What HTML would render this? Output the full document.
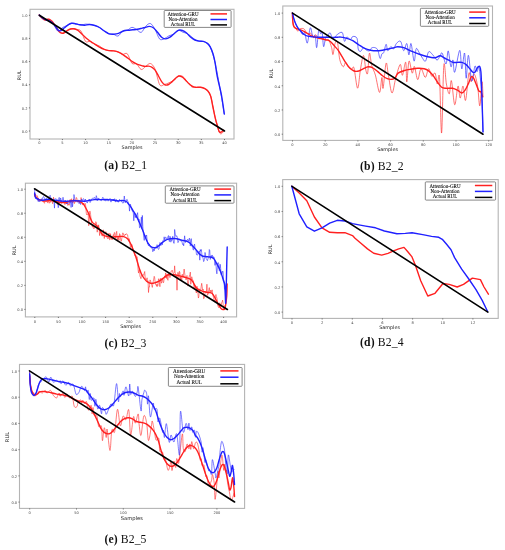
<!DOCTYPE html><html><head><meta charset="utf-8"><style>html,body{margin:0;padding:0;background:#fff;}svg{display:block}</style></head><body>
<svg width="505" height="550" viewBox="0 0 505 550">
<rect width="505" height="550" fill="#fff"/>
<clipPath id="ca"><rect x="30" y="9.3" width="204" height="129.7"/></clipPath>
<g clip-path="url(#ca)" fill="none" stroke-linejoin="round" stroke-linecap="round">
<path d="M39.30,15.10 C40.07,15.84 42.39,18.94 43.93,19.54 C45.47,20.14 47.02,18.15 48.56,18.68 C50.10,19.21 51.65,20.86 53.19,22.74 C54.73,24.62 56.28,28.19 57.82,29.95 C59.36,31.71 60.91,33.18 62.45,33.30 C63.99,33.43 65.54,31.45 67.08,30.69 C68.62,29.93 70.17,28.94 71.71,28.74 C73.25,28.55 74.80,29.14 76.34,29.53 C77.88,29.92 79.43,29.09 80.97,31.08 C82.51,33.07 84.06,39.81 85.60,41.49 C87.14,43.18 88.69,40.74 90.23,41.18 C91.77,41.62 93.32,43.32 94.86,44.14 C96.40,44.96 97.95,45.23 99.49,46.09 C101.03,46.96 102.58,48.59 104.12,49.33 C105.66,50.08 107.21,50.31 108.75,50.56 C110.29,50.81 111.84,50.62 113.38,50.84 C114.92,51.07 116.47,51.32 118.01,51.91 C119.55,52.50 121.10,54.07 122.64,54.37 C124.18,54.68 125.73,52.26 127.27,53.75 C128.81,55.23 130.36,61.60 131.90,63.29 C133.44,64.98 134.99,62.85 136.53,63.88 C138.07,64.92 139.62,69.07 141.16,69.49 C142.70,69.90 144.25,67.36 145.79,66.36 C147.33,65.36 148.88,63.04 150.42,63.50 C151.96,63.97 153.51,65.60 155.05,69.14 C156.59,72.67 158.14,82.15 159.68,84.71 C161.22,87.27 162.77,84.83 164.31,84.52 C165.85,84.20 167.40,83.53 168.94,82.82 C170.48,82.12 172.03,81.38 173.57,80.27 C175.11,79.17 176.66,76.83 178.20,76.19 C179.74,75.56 181.29,75.48 182.83,76.48 C184.37,77.47 185.92,80.42 187.46,82.19 C189.00,83.96 190.55,86.23 192.09,87.09 C193.63,87.95 195.18,87.29 196.72,87.35 C198.26,87.41 199.81,87.10 201.35,87.44 C202.89,87.77 204.44,87.93 205.98,89.35 C207.52,90.77 209.07,91.19 210.61,95.94 C212.15,100.70 213.69,111.66 215.24,117.89 C216.79,124.11 218.39,131.20 219.90,133.30 C221.41,135.40 223.57,130.97 224.30,130.50" stroke="#ff2020" stroke-width="0.7" opacity="0.9"/>
<path d="M39.30,15.10 C40.07,15.72 42.39,17.89 43.93,18.81 C45.47,19.74 47.02,19.83 48.56,20.64 C50.10,21.45 51.65,21.91 53.19,23.66 C54.73,25.41 56.28,30.49 57.82,31.14 C59.36,31.79 60.91,28.47 62.45,27.54 C63.99,26.60 65.54,26.26 67.08,25.55 C68.62,24.84 70.17,23.55 71.71,23.29 C73.25,23.02 74.80,23.68 76.34,23.95 C77.88,24.23 79.43,24.93 80.97,24.96 C82.51,24.98 84.06,24.17 85.60,24.11 C87.14,24.04 88.69,24.32 90.23,24.55 C91.77,24.79 93.32,25.03 94.86,25.52 C96.40,26.01 97.95,26.60 99.49,27.49 C101.03,28.39 102.58,29.84 104.12,30.88 C105.66,31.91 107.21,33.15 108.75,33.71 C110.29,34.26 111.84,33.83 113.38,34.22 C114.92,34.61 116.47,36.55 118.01,36.05 C119.55,35.56 121.10,32.23 122.64,31.27 C124.18,30.30 125.73,30.93 127.27,30.29 C128.81,29.64 130.36,27.51 131.90,27.38 C133.44,27.24 134.99,28.61 136.53,29.45 C138.07,30.29 139.62,32.93 141.16,32.40 C142.70,31.87 144.25,27.73 145.79,26.26 C147.33,24.78 148.88,23.01 150.42,23.54 C151.96,24.07 153.51,26.84 155.05,29.44 C156.59,32.03 158.14,37.55 159.68,39.09 C161.22,40.63 162.77,39.22 164.31,38.68 C165.85,38.13 167.40,36.59 168.94,35.84 C170.48,35.09 172.03,35.07 173.57,34.16 C175.11,33.24 176.66,30.68 178.20,30.35 C179.74,30.01 181.29,31.58 182.83,32.16 C184.37,32.73 185.92,32.93 187.46,33.77 C189.00,34.62 190.55,36.09 192.09,37.24 C193.63,38.38 195.18,39.98 196.72,40.64 C198.26,41.30 199.81,40.89 201.35,41.19 C202.89,41.50 204.44,41.39 205.98,42.48 C207.52,43.56 209.07,44.19 210.61,47.70 C212.15,51.22 213.70,56.89 215.24,63.57 C216.78,70.25 218.36,79.38 219.87,87.79 C221.38,96.19 223.56,109.63 224.30,114.00" stroke="#2020ff" stroke-width="0.7" opacity="0.9"/>
<path d="M39.30,15.10 C39.93,15.73 42.07,18.07 43.10,18.90 C44.13,19.73 44.50,20.00 45.50,20.10 C46.50,20.20 48.02,19.30 49.10,19.50 C50.18,19.70 51.02,20.32 52.00,21.30 C52.98,22.28 54.00,23.92 55.00,25.40 C56.00,26.88 57.12,29.00 58.00,30.20 C58.88,31.40 59.42,32.10 60.30,32.60 C61.18,33.10 62.20,33.50 63.30,33.20 C64.40,32.90 65.72,31.50 66.90,30.80 C68.08,30.10 69.22,29.33 70.40,29.00 C71.58,28.67 72.80,28.60 74.00,28.80 C75.20,29.00 76.42,29.47 77.60,30.20 C78.78,30.93 79.92,32.12 81.10,33.20 C82.28,34.28 83.50,35.62 84.70,36.70 C85.90,37.78 87.12,38.77 88.30,39.70 C89.48,40.63 90.72,41.57 91.80,42.30 C92.88,43.03 93.52,43.30 94.80,44.10 C96.08,44.90 97.92,46.22 99.50,47.10 C101.08,47.98 102.72,48.82 104.30,49.40 C105.88,49.98 107.42,50.35 109.00,50.60 C110.58,50.85 112.22,50.65 113.80,50.90 C115.38,51.15 116.92,51.45 118.50,52.10 C120.08,52.75 121.72,53.77 123.30,54.80 C124.88,55.83 126.42,57.12 128.00,58.30 C129.58,59.48 131.22,60.90 132.80,61.90 C134.38,62.90 135.92,63.65 137.50,64.30 C139.08,64.95 141.05,65.45 142.30,65.80 C143.55,66.15 143.98,66.35 145.00,66.40 C146.02,66.45 147.28,65.98 148.40,66.10 C149.52,66.22 150.58,66.42 151.70,67.10 C152.82,67.78 153.97,68.72 155.10,70.20 C156.23,71.68 157.38,74.05 158.50,76.00 C159.62,77.95 160.68,80.40 161.80,81.90 C162.92,83.40 164.07,84.57 165.20,85.00 C166.33,85.43 167.48,85.02 168.60,84.50 C169.72,83.98 170.78,82.88 171.90,81.90 C173.02,80.92 174.17,79.58 175.30,78.60 C176.43,77.62 177.58,76.28 178.70,76.00 C179.82,75.72 180.88,76.25 182.00,76.90 C183.12,77.55 184.27,78.78 185.40,79.90 C186.53,81.02 187.68,82.57 188.80,83.60 C189.92,84.63 190.98,85.48 192.10,86.10 C193.22,86.72 194.08,87.10 195.50,87.30 C196.92,87.50 199.05,87.07 200.60,87.30 C202.15,87.53 203.55,88.05 204.80,88.70 C206.05,89.35 207.12,89.95 208.10,91.20 C209.08,92.45 210.00,94.10 210.70,96.20 C211.40,98.30 211.75,101.13 212.30,103.80 C212.85,106.47 213.43,109.53 214.00,112.20 C214.57,114.87 215.13,117.55 215.70,119.80 C216.27,122.05 216.83,123.78 217.40,125.70 C217.97,127.62 218.53,130.22 219.10,131.30 C219.67,132.38 220.07,132.37 220.80,132.20 C221.53,132.03 223.05,130.62 223.50,130.30" stroke="#ff2020" stroke-width="1.4" opacity="1"/>
<path d="M39.30,15.10 C39.93,15.63 41.87,17.47 43.10,18.30 C44.33,19.13 45.50,19.60 46.70,20.10 C47.90,20.60 49.12,20.60 50.30,21.30 C51.48,22.00 52.72,23.12 53.80,24.30 C54.88,25.48 55.90,27.32 56.80,28.40 C57.70,29.48 58.42,30.50 59.20,30.80 C59.98,31.10 60.62,30.70 61.50,30.20 C62.38,29.70 63.40,28.70 64.50,27.80 C65.60,26.90 66.92,25.55 68.10,24.80 C69.28,24.05 70.42,23.48 71.60,23.30 C72.78,23.12 73.82,23.45 75.20,23.70 C76.58,23.95 78.32,24.55 79.90,24.80 C81.48,25.05 83.12,25.25 84.70,25.20 C86.28,25.15 87.72,24.45 89.40,24.50 C91.08,24.55 93.12,25.00 94.80,25.50 C96.48,26.00 97.92,26.58 99.50,27.50 C101.08,28.42 102.72,29.95 104.30,31.00 C105.88,32.05 107.42,33.27 109.00,33.80 C110.58,34.33 112.22,34.27 113.80,34.20 C115.38,34.13 116.92,33.93 118.50,33.40 C120.08,32.87 121.72,31.53 123.30,31.00 C124.88,30.47 126.42,30.40 128.00,30.20 C129.58,30.00 131.22,29.95 132.80,29.80 C134.38,29.65 135.92,29.58 137.50,29.30 C139.08,29.02 141.05,28.40 142.30,28.10 C143.55,27.80 143.85,27.78 145.00,27.50 C146.15,27.22 147.82,26.35 149.20,26.40 C150.58,26.45 151.92,26.82 153.30,27.80 C154.68,28.78 156.12,30.73 157.50,32.30 C158.88,33.87 160.22,36.10 161.60,37.20 C162.98,38.30 164.40,38.90 165.80,38.90 C167.20,38.90 168.62,38.07 170.00,37.20 C171.38,36.33 172.72,34.85 174.10,33.70 C175.48,32.55 176.92,30.83 178.30,30.30 C179.68,29.77 181.02,30.05 182.40,30.50 C183.78,30.95 185.20,31.88 186.60,33.00 C188.00,34.12 189.42,36.03 190.80,37.20 C192.18,38.37 193.52,39.35 194.90,40.00 C196.28,40.65 197.70,40.87 199.10,41.10 C200.50,41.33 201.92,41.02 203.30,41.40 C204.68,41.78 206.25,42.48 207.40,43.40 C208.55,44.32 209.27,45.17 210.20,46.90 C211.13,48.63 212.20,51.25 213.00,53.80 C213.80,56.35 214.28,58.40 215.00,62.20 C215.72,66.00 216.22,71.08 217.30,76.60 C218.38,82.12 220.33,89.07 221.50,95.30 C222.67,101.53 223.83,110.88 224.30,114.00" stroke="#2020ff" stroke-width="1.4" opacity="1"/>
<path d="M39.30,15.30 L224.50,131.00" stroke="#000" stroke-width="1.6" opacity="1"/>
</g>
<rect x="30" y="9.3" width="204" height="129.7" fill="none" stroke="#b4b4b4" stroke-width="1.1"/>
<line x1="39.30" y1="139" x2="39.30" y2="140.1" stroke="#444" stroke-width="0.7"/>
<text x="39.30" y="144.20" font-family="DejaVu Sans" font-size="3.6" fill="#444" text-anchor="middle">0</text>
<line x1="62.45" y1="139" x2="62.45" y2="140.1" stroke="#444" stroke-width="0.7"/>
<text x="62.45" y="144.20" font-family="DejaVu Sans" font-size="3.6" fill="#444" text-anchor="middle">5</text>
<line x1="85.60" y1="139" x2="85.60" y2="140.1" stroke="#444" stroke-width="0.7"/>
<text x="85.60" y="144.20" font-family="DejaVu Sans" font-size="3.6" fill="#444" text-anchor="middle">10</text>
<line x1="108.75" y1="139" x2="108.75" y2="140.1" stroke="#444" stroke-width="0.7"/>
<text x="108.75" y="144.20" font-family="DejaVu Sans" font-size="3.6" fill="#444" text-anchor="middle">15</text>
<line x1="131.90" y1="139" x2="131.90" y2="140.1" stroke="#444" stroke-width="0.7"/>
<text x="131.90" y="144.20" font-family="DejaVu Sans" font-size="3.6" fill="#444" text-anchor="middle">20</text>
<line x1="155.05" y1="139" x2="155.05" y2="140.1" stroke="#444" stroke-width="0.7"/>
<text x="155.05" y="144.20" font-family="DejaVu Sans" font-size="3.6" fill="#444" text-anchor="middle">25</text>
<line x1="178.20" y1="139" x2="178.20" y2="140.1" stroke="#444" stroke-width="0.7"/>
<text x="178.20" y="144.20" font-family="DejaVu Sans" font-size="3.6" fill="#444" text-anchor="middle">30</text>
<line x1="201.35" y1="139" x2="201.35" y2="140.1" stroke="#444" stroke-width="0.7"/>
<text x="201.35" y="144.20" font-family="DejaVu Sans" font-size="3.6" fill="#444" text-anchor="middle">35</text>
<line x1="224.50" y1="139" x2="224.50" y2="140.1" stroke="#444" stroke-width="0.7"/>
<text x="224.50" y="144.20" font-family="DejaVu Sans" font-size="3.6" fill="#444" text-anchor="middle">40</text>
<line x1="28.9" y1="131.00" x2="30" y2="131.00" stroke="#444" stroke-width="0.7"/>
<text x="27.5" y="132.75" font-family="DejaVu Sans" font-size="3.6" fill="#444" text-anchor="end">0.0</text>
<line x1="28.9" y1="107.86" x2="30" y2="107.86" stroke="#444" stroke-width="0.7"/>
<text x="27.5" y="109.61" font-family="DejaVu Sans" font-size="3.6" fill="#444" text-anchor="end">0.2</text>
<line x1="28.9" y1="84.72" x2="30" y2="84.72" stroke="#444" stroke-width="0.7"/>
<text x="27.5" y="86.47" font-family="DejaVu Sans" font-size="3.6" fill="#444" text-anchor="end">0.4</text>
<line x1="28.9" y1="61.58" x2="30" y2="61.58" stroke="#444" stroke-width="0.7"/>
<text x="27.5" y="63.33" font-family="DejaVu Sans" font-size="3.6" fill="#444" text-anchor="end">0.6</text>
<line x1="28.9" y1="38.44" x2="30" y2="38.44" stroke="#444" stroke-width="0.7"/>
<text x="27.5" y="40.19" font-family="DejaVu Sans" font-size="3.6" fill="#444" text-anchor="end">0.8</text>
<line x1="28.9" y1="15.30" x2="30" y2="15.30" stroke="#444" stroke-width="0.7"/>
<text x="27.5" y="17.05" font-family="DejaVu Sans" font-size="3.6" fill="#444" text-anchor="end">1.0</text>
<text x="132" y="147.3" font-family="DejaVu Sans" font-size="4.9" fill="#222" text-anchor="middle" dominant-baseline="central">Samples</text>
<text transform="translate(18.8,75.3) rotate(-90)" font-family="DejaVu Sans" font-size="4.9" fill="#222" text-anchor="middle" dominant-baseline="central">RUL</text>
<rect x="164.2" y="10.5" width="66.9" height="16.9" rx="0.8" fill="#fff" stroke="#555" stroke-width="0.7"/>
<text x="183.0" y="15.65" font-family="Liberation Serif" font-size="5" fill="#000" stroke="#000" stroke-width="0.08" text-anchor="middle" text-rendering="geometricPrecision" transform="translate(183.0 13.9) scale(1 1.12) translate(-183.0 -13.9)">Attention-GRU</text>
<text x="183.0" y="20.65" font-family="Liberation Serif" font-size="5" fill="#000" stroke="#000" stroke-width="0.08" text-anchor="middle" text-rendering="geometricPrecision" transform="translate(183.0 18.9) scale(1 1.12) translate(-183.0 -18.9)">Non-Attention</text>
<text x="183.0" y="25.55" font-family="Liberation Serif" font-size="5" fill="#000" stroke="#000" stroke-width="0.08" text-anchor="middle" text-rendering="geometricPrecision" transform="translate(183.0 23.8) scale(1 1.12) translate(-183.0 -23.8)">Actual RUL</text>
<line x1="210.5" y1="13.9" x2="227.0" y2="13.9" stroke="#ff2020" stroke-width="1.5"/>
<line x1="210.5" y1="19.5" x2="227.0" y2="19.5" stroke="#2020ff" stroke-width="1.5"/>
<line x1="210.5" y1="24.9" x2="227.0" y2="24.9" stroke="#000" stroke-width="1.5"/>
<text x="104.3" y="169.1" font-family="Liberation Serif" font-size="11.7" fill="#111" letter-spacing="0.12"><tspan font-weight="bold">(a)</tspan> B2_1</text>
<clipPath id="cb"><rect x="282.8" y="6" width="209.7" height="134.4"/></clipPath>
<g clip-path="url(#cb)" fill="none" stroke-linejoin="round" stroke-linecap="round">
<path d="M292.20,12.50 C292.30,14.23 292.52,20.43 292.80,22.90 C293.08,25.37 293.38,26.40 293.90,27.30 C294.42,28.20 295.23,27.63 295.90,28.30 C296.57,28.97 297.23,31.22 297.90,31.30 C298.57,31.38 298.92,29.22 299.90,28.80 C300.88,28.38 302.73,28.22 303.80,28.80 C304.87,29.38 305.55,31.40 306.30,32.30 C307.05,33.20 307.55,34.05 308.30,34.20 C309.05,34.35 309.90,32.62 310.80,33.20 C311.70,33.78 312.88,37.45 313.70,37.70 C314.52,37.95 314.87,34.53 315.70,34.70 C316.53,34.87 317.53,38.20 318.70,38.70 C319.87,39.20 321.55,37.37 322.70,37.70 C323.85,38.03 324.62,40.37 325.60,40.70 C326.58,41.03 327.60,38.55 328.60,39.70 C329.60,40.85 330.87,45.13 331.60,47.60 C332.33,50.07 332.43,55.17 333.00,54.50 C333.57,53.83 334.27,45.70 335.00,43.60 C335.73,41.50 336.60,39.22 337.40,41.90 C338.20,44.58 338.82,55.55 339.80,59.70 C340.78,63.85 342.32,66.40 343.30,66.80 C344.28,67.20 344.90,62.10 345.70,62.10 C346.50,62.10 347.12,65.62 348.10,66.80 C349.08,67.98 350.62,69.00 351.60,69.20 C352.58,69.40 353.00,64.83 354.00,68.00 C355.00,71.17 356.52,88.00 357.60,88.20 C358.68,88.40 359.52,74.65 360.50,69.20 C361.48,63.75 362.60,55.30 363.50,55.50 C364.40,55.70 365.20,67.52 365.90,70.40 C366.60,73.28 367.12,75.67 367.70,72.80 C368.28,69.93 368.72,54.40 369.40,53.20 C370.08,52.00 370.80,61.95 371.80,65.60 C372.80,69.25 374.12,70.63 375.40,75.10 C376.68,79.57 378.42,92.00 379.50,92.40 C380.58,92.80 381.30,78.20 381.90,77.50 C382.50,76.80 382.40,90.57 383.10,88.20 C383.80,85.83 385.22,65.48 386.10,63.30 C386.98,61.12 387.42,70.15 388.40,75.10 C389.38,80.05 390.75,92.62 392.00,93.00 C393.25,93.38 394.52,82.17 395.90,77.40 C397.28,72.63 399.22,64.75 400.30,64.40 C401.38,64.05 401.50,75.67 402.40,75.30 C403.30,74.93 404.97,61.12 405.70,62.20 C406.43,63.28 406.25,81.98 406.80,81.80 C407.35,81.62 408.10,62.55 409.00,61.10 C409.90,59.65 411.30,72.20 412.20,73.10 C413.10,74.00 413.48,65.42 414.40,66.50 C415.32,67.58 416.60,79.23 417.70,79.60 C418.80,79.97 419.73,69.07 421.00,68.70 C422.27,68.33 424.03,77.40 425.30,77.40 C426.57,77.40 427.52,68.88 428.60,68.70 C429.68,68.52 430.72,75.57 431.80,76.30 C432.88,77.03 434.18,71.82 435.10,73.10 C436.02,74.38 436.57,83.28 437.30,84.00 C438.03,84.72 438.78,69.23 439.50,77.40 C440.22,85.57 440.88,135.00 441.60,133.00 C442.32,131.00 443.00,73.57 443.80,65.40 C444.60,57.23 445.48,79.27 446.40,84.00 C447.32,88.73 448.47,94.35 449.30,93.80 C450.13,93.25 450.50,78.88 451.40,80.70 C452.30,82.52 453.60,103.80 454.70,104.70 C455.80,105.60 457.08,87.20 458.00,86.10 C458.92,85.00 459.37,98.10 460.20,98.10 C461.03,98.10 462.10,85.73 463.00,86.10 C463.90,86.47 464.62,102.47 465.60,100.30 C466.58,98.13 467.98,76.18 468.90,73.10 C469.82,70.02 470.20,81.62 471.10,81.80 C472.00,81.98 473.22,73.48 474.30,74.20 C475.38,74.92 476.68,80.83 477.60,86.10 C478.52,91.37 479.07,106.52 479.80,105.80 C480.53,105.08 481.47,83.27 482.00,81.80 C482.53,80.33 482.83,94.47 483.00,97.00" stroke="#ff2020" stroke-width="0.7" opacity="0.9"/>
<path d="M292.30,12.90 C292.57,13.90 293.30,17.00 293.90,18.90 C294.50,20.80 295.23,22.82 295.90,24.30 C296.57,25.78 297.23,26.80 297.90,27.80 C298.57,28.80 299.07,29.15 299.90,30.30 C300.73,31.45 302.08,34.28 302.90,34.70 C303.72,35.12 304.07,31.40 304.80,32.80 C305.53,34.20 306.38,43.93 307.30,43.10 C308.22,42.27 309.38,28.87 310.30,27.80 C311.22,26.73 311.98,35.38 312.80,36.70 C313.62,38.02 314.55,33.88 315.20,35.70 C315.85,37.52 316.12,48.50 316.70,47.60 C317.28,46.70 318.03,32.62 318.70,30.30 C319.37,27.98 320.12,33.28 320.70,33.70 C321.28,34.12 321.72,30.65 322.20,32.80 C322.68,34.95 323.03,45.78 323.60,46.60 C324.17,47.42 324.93,39.52 325.60,37.70 C326.27,35.88 326.85,36.52 327.60,35.70 C328.35,34.88 329.35,32.47 330.10,32.80 C330.85,33.13 331.37,36.88 332.10,37.70 C332.83,38.52 333.77,38.12 334.50,37.70 C335.23,37.28 335.23,36.08 336.50,35.20 C337.77,34.32 340.77,31.38 342.10,32.40 C343.43,33.42 343.70,40.52 344.50,41.30 C345.30,42.08 345.92,37.40 346.90,37.10 C347.88,36.80 349.42,39.60 350.40,39.50 C351.38,39.40 351.70,36.70 352.80,36.50 C353.90,36.30 356.10,36.22 357.00,38.30 C357.90,40.38 357.62,46.82 358.20,49.00 C358.78,51.18 359.62,51.60 360.50,51.40 C361.38,51.20 362.50,48.00 363.50,47.80 C364.50,47.60 365.52,49.70 366.50,50.20 C367.48,50.70 368.52,51.20 369.40,50.80 C370.28,50.40 370.80,48.30 371.80,47.80 C372.80,47.30 374.40,47.40 375.40,47.80 C376.40,48.20 377.02,48.42 377.80,50.20 C378.58,51.98 379.42,57.90 380.10,58.50 C380.78,59.10 381.30,54.78 381.90,53.80 C382.50,52.82 383.00,54.18 383.70,52.60 C384.40,51.02 385.42,44.60 386.10,44.30 C386.78,44.00 387.02,50.42 387.80,50.80 C388.58,51.18 389.85,46.90 390.80,46.60 C391.75,46.30 392.57,49.52 393.50,49.00 C394.43,48.48 395.22,44.77 396.40,43.50 C397.58,42.23 399.38,40.20 400.60,41.40 C401.82,42.60 402.67,50.35 403.70,50.70 C404.73,51.05 405.93,42.80 406.80,43.50 C407.67,44.20 408.20,54.90 408.90,54.90 C409.60,54.90 410.13,42.47 411.00,43.50 C411.87,44.53 413.23,60.23 414.10,61.10 C414.97,61.97 415.33,50.08 416.20,48.70 C417.07,47.32 418.27,51.25 419.30,52.80 C420.33,54.35 421.37,56.62 422.40,58.00 C423.43,59.38 424.45,62.13 425.50,61.10 C426.55,60.07 427.48,52.83 428.70,51.80 C429.92,50.77 431.42,53.52 432.80,54.90 C434.18,56.28 435.80,59.92 437.00,60.10 C438.20,60.28 439.13,57.17 440.00,56.00 C440.87,54.83 441.20,51.77 442.20,53.10 C443.20,54.43 445.00,64.37 446.00,64.00 C447.00,63.63 447.38,50.45 448.20,50.90 C449.02,51.35 450.10,65.18 450.90,66.70 C451.70,68.22 452.37,59.08 453.00,60.00 C453.63,60.92 453.58,73.80 454.70,72.20 C455.82,70.60 458.52,50.95 459.70,50.40 C460.88,49.85 460.98,68.45 461.80,68.90 C462.62,69.35 463.87,51.55 464.60,53.10 C465.33,54.65 465.57,77.83 466.20,78.20 C466.83,78.57 467.48,54.85 468.40,55.30 C469.32,55.75 470.62,79.08 471.70,80.90 C472.78,82.72 474.00,67.73 474.90,66.20 C475.80,64.67 476.45,71.70 477.10,71.70 C477.75,71.70 478.23,64.82 478.80,66.20 C479.37,67.58 479.97,74.37 480.50,80.00 C481.03,85.63 481.58,91.35 482.00,100.00 C482.42,108.65 482.83,126.58 483.00,131.90" stroke="#2020ff" stroke-width="0.7" opacity="0.9"/>
<path d="M292.50,13.10 C292.52,13.90 292.52,16.27 292.60,17.90 C292.68,19.53 292.78,21.50 293.00,22.90 C293.22,24.30 293.42,25.40 293.90,26.30 C294.38,27.20 295.07,27.80 295.90,28.30 C296.73,28.80 297.90,28.97 298.90,29.30 C299.90,29.63 300.92,29.88 301.90,30.30 C302.88,30.72 303.82,31.23 304.80,31.80 C305.78,32.37 306.63,32.97 307.80,33.70 C308.97,34.43 310.48,35.62 311.80,36.20 C313.12,36.78 314.38,36.87 315.70,37.20 C317.02,37.53 318.38,37.87 319.70,38.20 C321.02,38.53 322.28,38.87 323.60,39.20 C324.92,39.53 326.43,39.78 327.60,40.20 C328.77,40.62 329.37,40.63 330.60,41.70 C331.83,42.77 333.67,45.08 335.00,46.60 C336.33,48.12 337.42,49.12 338.60,50.80 C339.78,52.48 340.92,54.72 342.10,56.70 C343.28,58.68 344.50,60.92 345.70,62.70 C346.90,64.48 347.92,66.02 349.30,67.40 C350.68,68.78 352.42,70.40 354.00,71.00 C355.58,71.60 357.22,71.40 358.80,71.00 C360.38,70.60 361.92,69.30 363.50,68.60 C365.08,67.90 366.72,66.90 368.30,66.80 C369.88,66.70 371.42,67.20 373.00,68.00 C374.58,68.80 376.22,70.32 377.80,71.60 C379.38,72.88 380.92,74.52 382.50,75.70 C384.08,76.88 385.72,78.10 387.30,78.70 C388.88,79.30 390.72,79.40 392.00,79.30 C393.28,79.20 393.98,79.13 395.00,78.10 C396.02,77.07 396.50,74.37 398.10,73.10 C399.70,71.83 402.43,71.15 404.60,70.50 C406.77,69.85 408.92,69.57 411.10,69.20 C413.28,68.83 415.52,68.38 417.70,68.30 C419.88,68.22 422.38,68.27 424.20,68.70 C426.02,69.13 427.15,69.80 428.60,70.90 C430.05,72.00 431.45,73.48 432.90,75.30 C434.35,77.12 435.85,79.82 437.30,81.80 C438.75,83.78 440.15,86.12 441.60,87.20 C443.05,88.28 444.18,88.12 446.00,88.30 C447.82,88.48 450.58,87.98 452.50,88.30 C454.42,88.62 455.95,89.42 457.50,90.20 C459.05,90.98 460.53,93.00 461.80,93.00 C463.07,93.00 464.00,91.75 465.10,90.20 C466.20,88.65 467.40,85.88 468.40,83.70 C469.40,81.52 470.28,78.10 471.10,77.10 C471.92,76.10 472.48,76.60 473.30,77.70 C474.12,78.80 475.08,81.52 476.00,83.70 C476.92,85.88 477.98,89.43 478.80,90.80 C479.62,92.17 480.27,90.90 480.90,91.90 C481.53,92.90 482.32,95.98 482.60,96.80" stroke="#ff2020" stroke-width="1.4" opacity="1"/>
<path d="M292.50,13.10 C292.73,14.07 293.33,17.03 293.90,18.90 C294.47,20.77 295.23,22.82 295.90,24.30 C296.57,25.78 297.07,26.63 297.90,27.80 C298.73,28.97 299.92,30.23 300.90,31.30 C301.88,32.37 302.65,33.38 303.80,34.20 C304.95,35.02 306.30,35.75 307.80,36.20 C309.30,36.65 311.15,36.73 312.80,36.90 C314.45,37.07 316.05,37.15 317.70,37.20 C319.35,37.25 321.05,37.20 322.70,37.20 C324.35,37.20 325.95,37.15 327.60,37.20 C329.25,37.25 330.95,37.50 332.60,37.50 C334.25,37.50 336.12,37.27 337.50,37.20 C338.88,37.13 339.33,36.92 340.90,37.10 C342.47,37.28 344.92,37.70 346.90,38.30 C348.88,38.90 350.82,39.62 352.80,40.70 C354.78,41.78 356.82,43.52 358.80,44.80 C360.78,46.08 362.73,47.50 364.70,48.40 C366.67,49.30 368.62,49.80 370.60,50.20 C372.58,50.60 374.62,50.80 376.60,50.80 C378.58,50.80 380.53,50.50 382.50,50.20 C384.47,49.90 386.42,49.43 388.40,49.00 C390.38,48.57 392.88,47.97 394.40,47.60 C395.92,47.23 395.95,46.80 397.50,46.80 C399.05,46.80 401.62,46.95 403.70,47.60 C405.78,48.25 407.57,49.65 410.00,50.70 C412.43,51.75 415.53,52.93 418.30,53.90 C421.07,54.87 423.83,55.85 426.60,56.50 C429.37,57.15 432.67,57.92 434.90,57.80 C437.13,57.68 438.42,55.77 440.00,55.80 C441.58,55.83 442.95,57.27 444.40,58.00 C445.85,58.73 447.25,59.47 448.70,60.20 C450.15,60.93 451.63,62.03 453.10,62.40 C454.57,62.77 456.05,62.40 457.50,62.40 C458.95,62.40 460.35,62.03 461.80,62.40 C463.25,62.77 464.92,63.60 466.20,64.60 C467.48,65.60 468.40,67.13 469.50,68.40 C470.60,69.67 471.90,71.57 472.80,72.20 C473.70,72.83 474.08,73.02 474.90,72.20 C475.72,71.38 476.88,68.22 477.70,67.30 C478.52,66.38 479.27,65.97 479.80,66.70 C480.33,67.43 480.62,68.87 480.90,71.70 C481.18,74.53 481.28,78.15 481.50,83.70 C481.72,89.25 481.95,96.97 482.20,105.00 C482.45,113.03 482.87,127.42 483.00,131.90" stroke="#2020ff" stroke-width="1.4" opacity="1"/>
<path d="M292.50,13.10 L483.00,134.20" stroke="#000" stroke-width="1.6" opacity="1"/>
</g>
<rect x="282.8" y="6" width="209.7" height="134.4" fill="none" stroke="#b4b4b4" stroke-width="1.1"/>
<line x1="292.50" y1="140.4" x2="292.50" y2="141.5" stroke="#444" stroke-width="0.7"/>
<text x="292.50" y="145.50" font-family="DejaVu Sans" font-size="3.6" fill="#444" text-anchor="middle">0</text>
<line x1="325.20" y1="140.4" x2="325.20" y2="141.5" stroke="#444" stroke-width="0.7"/>
<text x="325.20" y="145.50" font-family="DejaVu Sans" font-size="3.6" fill="#444" text-anchor="middle">20</text>
<line x1="357.90" y1="140.4" x2="357.90" y2="141.5" stroke="#444" stroke-width="0.7"/>
<text x="357.90" y="145.50" font-family="DejaVu Sans" font-size="3.6" fill="#444" text-anchor="middle">40</text>
<line x1="390.60" y1="140.4" x2="390.60" y2="141.5" stroke="#444" stroke-width="0.7"/>
<text x="390.60" y="145.50" font-family="DejaVu Sans" font-size="3.6" fill="#444" text-anchor="middle">60</text>
<line x1="423.30" y1="140.4" x2="423.30" y2="141.5" stroke="#444" stroke-width="0.7"/>
<text x="423.30" y="145.50" font-family="DejaVu Sans" font-size="3.6" fill="#444" text-anchor="middle">80</text>
<line x1="456.00" y1="140.4" x2="456.00" y2="141.5" stroke="#444" stroke-width="0.7"/>
<text x="456.00" y="145.50" font-family="DejaVu Sans" font-size="3.6" fill="#444" text-anchor="middle">100</text>
<line x1="488.70" y1="140.4" x2="488.70" y2="141.5" stroke="#444" stroke-width="0.7"/>
<text x="488.70" y="145.50" font-family="DejaVu Sans" font-size="3.6" fill="#444" text-anchor="middle">120</text>
<line x1="281.7" y1="134.20" x2="282.8" y2="134.20" stroke="#444" stroke-width="0.7"/>
<text x="280.3" y="135.95" font-family="DejaVu Sans" font-size="3.6" fill="#444" text-anchor="end">0.0</text>
<line x1="281.7" y1="109.98" x2="282.8" y2="109.98" stroke="#444" stroke-width="0.7"/>
<text x="280.3" y="111.73" font-family="DejaVu Sans" font-size="3.6" fill="#444" text-anchor="end">0.2</text>
<line x1="281.7" y1="85.76" x2="282.8" y2="85.76" stroke="#444" stroke-width="0.7"/>
<text x="280.3" y="87.51" font-family="DejaVu Sans" font-size="3.6" fill="#444" text-anchor="end">0.4</text>
<line x1="281.7" y1="61.54" x2="282.8" y2="61.54" stroke="#444" stroke-width="0.7"/>
<text x="280.3" y="63.29" font-family="DejaVu Sans" font-size="3.6" fill="#444" text-anchor="end">0.6</text>
<line x1="281.7" y1="37.32" x2="282.8" y2="37.32" stroke="#444" stroke-width="0.7"/>
<text x="280.3" y="39.07" font-family="DejaVu Sans" font-size="3.6" fill="#444" text-anchor="end">0.8</text>
<line x1="281.7" y1="13.10" x2="282.8" y2="13.10" stroke="#444" stroke-width="0.7"/>
<text x="280.3" y="14.85" font-family="DejaVu Sans" font-size="3.6" fill="#444" text-anchor="end">1.0</text>
<text x="387.6" y="149.0" font-family="DejaVu Sans" font-size="4.9" fill="#222" text-anchor="middle" dominant-baseline="central">Samples</text>
<text transform="translate(271.4,73.6) rotate(-90)" font-family="DejaVu Sans" font-size="4.9" fill="#222" text-anchor="middle" dominant-baseline="central">RUL</text>
<rect x="420.4" y="8.3" width="68.30000000000001" height="18.0" rx="0.8" fill="#fff" stroke="#555" stroke-width="0.7"/>
<text x="440.1" y="14.05" font-family="Liberation Serif" font-size="5" fill="#000" stroke="#000" stroke-width="0.08" text-anchor="middle" text-rendering="geometricPrecision" transform="translate(440.1 12.3) scale(1 1.12) translate(-440.1 -12.3)">Attention-GRU</text>
<text x="440.1" y="18.95" font-family="Liberation Serif" font-size="5" fill="#000" stroke="#000" stroke-width="0.08" text-anchor="middle" text-rendering="geometricPrecision" transform="translate(440.1 17.2) scale(1 1.12) translate(-440.1 -17.2)">Non-Attention</text>
<text x="440.1" y="23.95" font-family="Liberation Serif" font-size="5" fill="#000" stroke="#000" stroke-width="0.08" text-anchor="middle" text-rendering="geometricPrecision" transform="translate(440.1 22.2) scale(1 1.12) translate(-440.1 -22.2)">Actual RUL</text>
<line x1="469.2" y1="12.1" x2="485.7" y2="12.1" stroke="#ff2020" stroke-width="1.5"/>
<line x1="469.2" y1="17.8" x2="485.7" y2="17.8" stroke="#2020ff" stroke-width="1.5"/>
<line x1="469.2" y1="23.5" x2="485.7" y2="23.5" stroke="#000" stroke-width="1.5"/>
<text x="360.1" y="170.2" font-family="Liberation Serif" font-size="11.7" fill="#111" letter-spacing="0.12"><tspan font-weight="bold">(b)</tspan> B2_2</text>
<clipPath id="cc"><rect x="25.4" y="183.2" width="211.2" height="133.7"/></clipPath>
<g clip-path="url(#cc)" fill="none" stroke-linejoin="round" stroke-linecap="round">
<path d="M35.00,195.17 L35.47,194.16 L35.95,196.58 L36.42,195.85 L36.90,195.41 L37.37,195.81 L37.85,197.47 L38.32,200.39 L38.80,201.00 L39.27,200.57 L39.75,199.86 L40.22,200.32 L40.70,199.33 L41.17,199.93 L41.65,199.51 L42.12,199.08 L42.60,201.19 L43.07,201.68 L43.55,200.57 L44.02,202.82 L44.50,203.32 L44.97,200.45 L45.45,200.55 L45.92,200.60 L46.40,199.99 L46.87,200.10 L47.35,202.53 L47.82,202.83 L48.30,200.81 L48.77,201.41 L49.25,203.26 L49.72,202.28 L50.20,199.52 L50.67,202.33 L51.15,201.49 L51.62,198.57 L52.10,200.84 L52.57,203.66 L53.05,202.05 L53.52,197.23 L54.00,198.99 L54.47,201.06 L54.95,200.06 L55.42,201.19 L55.90,201.94 L56.37,201.90 L56.85,201.36 L57.32,202.53 L57.80,204.68 L58.27,203.50 L58.75,201.58 L59.22,202.41 L59.70,203.46 L60.17,201.68 L60.65,200.78 L61.12,203.02 L61.60,203.45 L62.07,202.08 L62.55,202.44 L63.02,202.79 L63.50,202.60 L63.97,200.64 L64.45,202.47 L64.92,204.67 L65.40,201.91 L65.87,202.67 L66.35,203.80 L66.82,202.67 L67.30,203.27 L67.77,205.42 L68.25,204.70 L68.72,203.80 L69.20,205.27 L69.67,202.39 L70.15,199.46 L70.62,201.22 L71.10,199.90 L71.57,198.73 L72.05,201.78 L72.52,203.09 L72.99,202.31 L73.47,199.22 L73.94,201.05 L74.42,203.59 L74.89,201.96 L75.37,201.93 L75.84,199.39 L76.32,197.44 L76.79,198.03 L77.27,201.60 L77.74,202.09 L78.22,199.95 L78.69,200.68 L79.17,201.66 L79.64,202.62 L80.12,202.49 L80.59,200.87 L81.07,197.56 L81.54,199.32 L82.02,203.18 L82.49,204.66 L82.97,204.71 L83.44,203.31 L83.92,204.47 L84.39,204.23 L84.87,203.56 L85.34,203.55 L85.82,206.82 L86.29,213.17 L86.77,214.90 L87.24,214.14 L87.72,214.15 L88.19,213.60 L88.67,225.71 L89.14,223.83 L89.62,211.35 L90.09,211.07 L90.57,214.28 L91.04,219.11 L91.52,223.67 L91.99,225.04 L92.47,227.22 L92.94,225.12 L93.42,224.60 L93.89,228.89 L94.37,227.32 L94.84,226.09 L95.32,226.12 L95.79,221.70 L96.27,222.57 L96.74,224.41 L97.22,232.17 L97.69,226.12 L98.17,227.12 L98.64,224.85 L99.12,228.68 L99.59,235.59 L100.07,232.14 L100.54,229.21 L101.02,230.96 L101.49,234.66 L101.97,236.03 L102.44,236.04 L102.92,232.22 L103.39,229.82 L103.87,235.88 L104.34,238.49 L104.82,233.62 L105.29,231.81 L105.77,232.08 L106.24,231.92 L106.72,236.66 L107.19,238.16 L107.67,238.17 L108.14,238.97 L108.62,234.38 L109.09,232.96 L109.57,239.78 L110.04,239.62 L110.52,233.71 L110.99,237.32 L111.46,239.38 L111.94,237.17 L112.41,239.62 L112.89,236.46 L113.36,234.55 L113.84,235.77 L114.31,232.46 L114.79,232.84 L115.26,237.37 L115.74,238.53 L116.21,233.13 L116.69,231.35 L117.16,237.36 L117.64,241.17 L118.11,236.45 L118.59,238.94 L119.06,240.21 L119.54,233.67 L120.01,234.06 L120.49,237.86 L120.96,240.99 L121.44,241.15 L121.91,237.49 L122.39,234.65 L122.86,232.84 L123.34,233.80 L123.81,235.45 L124.29,236.16 L124.76,235.13 L125.24,233.96 L125.71,234.90 L126.19,233.96 L126.66,233.76 L127.14,234.49 L127.61,234.95 L128.09,238.32 L128.56,241.26 L129.04,238.58 L129.51,240.15 L129.99,243.93 L130.46,247.43 L130.94,247.27 L131.41,244.43 L131.89,244.37 L132.36,246.30 L132.84,250.23 L133.31,251.58 L133.79,251.10 L134.26,253.25 L134.74,255.32 L135.21,255.90 L135.69,254.90 L136.16,256.22 L136.64,257.58 L137.11,256.79 L137.59,261.11 L138.06,269.54 L138.54,273.09 L139.01,269.82 L139.49,268.54 L139.96,276.27 L140.44,276.98 L140.91,278.70 L141.39,276.20 L141.86,274.82 L142.34,275.38 L142.81,275.11 L143.29,274.66 L143.76,275.43 L144.24,273.10 L144.71,271.53 L145.19,278.00 L145.66,279.14 L146.14,279.88 L146.61,279.48 L147.09,277.79 L147.56,282.01 L148.04,280.78 L148.51,292.51 L148.98,286.77 L149.46,287.03 L149.93,279.91 L150.41,280.29 L150.88,282.08 L151.36,283.38 L151.83,285.58 L152.31,287.42 L152.78,284.19 L153.26,281.48 L153.73,279.06 L154.21,276.33 L154.68,277.76 L155.16,282.74 L155.63,284.58 L156.11,284.60 L156.58,286.33 L157.06,283.94 L157.53,286.40 L158.01,285.37 L158.48,278.90 L158.96,278.86 L159.43,282.62 L159.91,286.69 L160.38,278.35 L160.86,279.31 L161.33,283.23 L161.81,281.60 L162.28,278.05 L162.76,280.42 L163.23,282.89 L163.71,282.20 L164.18,277.80 L164.66,275.88 L165.13,278.05 L165.61,272.89 L166.08,274.44 L166.56,278.45 L167.03,274.63 L167.51,279.36 L167.98,280.30 L168.46,273.33 L168.93,272.76 L169.41,275.64 L169.88,277.62 L170.36,276.20 L170.83,272.36 L171.31,270.92 L171.78,271.04 L172.26,270.26 L172.73,272.13 L173.21,273.47 L173.68,273.69 L174.16,272.99 L174.63,265.83 L175.11,272.50 L175.58,273.76 L176.06,276.90 L176.53,275.72 L177.01,290.24 L177.48,275.71 L177.96,272.35 L178.43,274.20 L178.91,277.69 L179.38,271.33 L179.86,272.43 L180.33,279.49 L180.81,276.41 L181.28,278.26 L181.76,280.56 L182.23,274.19 L182.71,275.25 L183.18,277.20 L183.66,272.99 L184.13,269.05 L184.61,272.80 L185.08,276.16 L185.56,277.21 L186.03,279.91 L186.51,277.39 L186.98,275.43 L187.45,280.80 L187.93,286.07 L188.40,283.91 L188.88,279.37 L189.35,275.60 L189.83,275.73 L190.30,272.10 L190.78,284.25 L191.25,280.13 L191.73,276.74 L192.20,278.39 L192.68,279.89 L193.15,280.27 L193.63,284.82 L194.10,288.19 L194.58,287.81 L195.05,285.52 L195.53,286.56 L196.00,292.14 L196.48,293.02 L196.95,286.17 L197.43,289.25 L197.90,293.35 L198.38,298.05 L198.85,296.67 L199.33,288.77 L199.80,289.41 L200.28,290.71 L200.75,290.26 L201.23,286.21 L201.70,283.32 L202.18,286.55 L202.65,289.91 L203.13,289.00 L203.60,298.62 L204.08,298.39 L204.55,296.16 L205.03,293.30 L205.50,291.58 L205.98,292.31 L206.45,291.22 L206.93,284.23 L207.40,295.36 L207.88,294.41 L208.35,293.44 L208.83,289.54 L209.30,287.60 L209.78,291.79 L210.25,292.66 L210.73,290.07 L211.20,291.84 L211.68,291.76 L212.15,289.82 L212.63,294.46 L213.10,295.82 L213.58,297.80 L214.05,300.60 L214.53,300.02 L215.00,302.24 L215.48,296.33 L215.95,294.48 L216.43,297.39 L216.90,297.47 L217.38,301.13 L217.85,305.99 L218.33,306.83 L218.80,307.73 L219.28,306.64 L219.75,302.78 L220.23,304.18 L220.70,306.46 L221.18,306.13 L221.65,302.58 L222.13,301.95 L222.60,300.17 L223.08,303.78 L223.55,308.66 L224.03,306.77 L224.50,305.70" stroke="#ff2020" stroke-width="0.65" opacity="0.85"/>
<path d="M34.50,189.50 L35.47,198.68 L35.95,198.03 L36.42,198.22 L36.90,199.38 L37.37,198.29 L37.85,200.97 L38.32,201.66 L38.80,199.68 L39.27,200.50 L39.75,201.96 L40.22,201.23 L40.70,200.73 L41.17,199.74 L41.65,198.70 L42.12,199.29 L42.60,198.18 L43.07,196.94 L43.55,196.55 L44.02,196.99 L44.50,199.46 L44.97,199.31 L45.45,199.51 L45.92,198.30 L46.40,198.05 L46.87,199.73 L47.35,200.58 L47.82,199.29 L48.30,197.94 L48.77,196.60 L49.25,196.48 L49.72,196.31 L50.20,195.34 L50.67,199.10 L51.15,198.31 L51.62,198.06 L52.10,200.98 L52.57,199.81 L53.05,200.04 L53.52,201.06 L54.00,201.80 L54.47,208.13 L54.95,199.29 L55.42,198.96 L55.90,198.59 L56.37,199.28 L56.85,199.57 L57.32,200.89 L57.80,199.74 L58.27,207.69 L58.75,198.46 L59.22,197.40 L59.70,200.65 L60.17,200.35 L60.65,197.96 L61.12,200.12 L61.60,202.34 L62.07,200.76 L62.55,200.16 L63.02,197.24 L63.50,200.29 L63.97,200.40 L64.45,201.33 L64.92,200.83 L65.40,200.04 L65.87,201.70 L66.35,203.84 L66.82,200.72 L67.30,200.33 L67.77,204.04 L68.25,201.74 L68.72,200.96 L69.20,200.93 L69.67,202.39 L70.15,203.10 L70.62,200.98 L71.10,207.44 L71.57,200.43 L72.05,200.44 L72.52,206.82 L72.99,202.11 L73.47,200.92 L73.94,194.55 L74.42,196.54 L74.89,200.40 L75.37,200.96 L75.84,200.90 L76.32,200.34 L76.79,200.97 L77.27,202.26 L77.74,201.42 L78.22,199.96 L78.69,202.67 L79.17,203.72 L79.64,200.47 L80.12,202.51 L80.59,204.51 L81.07,201.28 L81.54,199.13 L82.02,200.16 L82.49,200.57 L82.97,199.07 L83.44,198.57 L83.92,199.20 L84.39,201.88 L84.87,201.94 L85.34,199.03 L85.82,200.20 L86.29,201.81 L86.77,201.91 L87.24,203.08 L87.72,201.86 L88.19,200.27 L88.67,200.32 L89.14,199.13 L89.62,199.84 L90.09,202.56 L90.57,201.92 L91.04,200.03 L91.52,199.46 L91.99,198.77 L92.47,198.08 L92.94,198.43 L93.42,198.32 L93.89,198.23 L94.37,197.36 L94.84,198.20 L95.32,200.00 L95.79,198.30 L96.27,195.66 L96.74,196.94 L97.22,200.76 L97.69,199.95 L98.17,198.19 L98.64,198.38 L99.12,199.67 L99.59,199.29 L100.07,199.67 L100.54,200.36 L101.02,200.30 L101.49,200.67 L101.97,199.37 L102.44,197.68 L102.92,197.16 L103.39,198.52 L103.87,200.02 L104.34,200.59 L104.82,199.06 L105.29,199.25 L105.77,201.14 L106.24,200.52 L106.72,198.93 L107.19,198.67 L107.67,200.09 L108.14,201.15 L108.62,199.22 L109.09,199.06 L109.57,199.59 L110.04,198.36 L110.52,200.31 L110.99,202.11 L111.46,199.95 L111.94,199.16 L112.41,200.58 L112.89,199.83 L113.36,199.20 L113.84,200.75 L114.31,198.98 L114.79,198.71 L115.26,201.67 L115.74,201.99 L116.21,199.77 L116.69,199.67 L117.16,200.30 L117.64,200.64 L118.11,202.32 L118.59,201.90 L119.06,200.31 L119.54,199.31 L120.01,201.01 L120.49,200.55 L120.96,200.04 L121.44,201.55 L121.91,200.66 L122.39,202.79 L122.86,203.24 L123.34,203.04 L123.81,200.80 L124.29,195.99 L124.76,199.49 L125.24,202.88 L125.71,201.62 L126.19,201.08 L126.66,199.61 L127.14,199.38 L127.61,200.89 L128.09,201.95 L128.56,204.70 L129.04,205.58 L129.51,211.12 L129.99,205.37 L130.46,204.21 L130.94,206.44 L131.41,207.45 L131.89,210.44 L132.36,210.10 L132.84,212.13 L133.31,212.73 L133.79,220.77 L134.26,213.07 L134.74,214.95 L135.21,217.47 L135.69,215.87 L136.16,217.89 L136.64,216.82 L137.11,214.35 L137.59,212.67 L138.06,218.02 L138.54,221.60 L139.01,219.17 L139.49,227.72 L139.96,227.57 L140.44,225.41 L140.91,223.19 L141.39,217.14 L141.86,228.53 L142.34,215.41 L142.81,226.35 L143.29,232.61 L143.76,237.63 L144.24,240.42 L144.71,237.12 L145.19,235.43 L145.66,238.03 L146.14,236.43 L146.61,234.97 L147.09,240.07 L147.56,244.18 L148.04,243.24 L148.51,245.83 L148.98,244.87 L149.46,244.17 L149.93,246.68 L150.41,246.05 L150.88,247.39 L151.36,248.18 L151.83,248.00 L152.31,248.37 L152.78,251.72 L153.26,250.72 L153.73,249.01 L154.21,250.83 L154.68,248.24 L155.16,248.58 L155.63,247.55 L156.11,248.13 L156.58,248.06 L157.06,244.67 L157.53,246.55 L158.01,248.72 L158.48,249.41 L158.96,249.08 L159.43,246.50 L159.91,242.53 L160.38,243.58 L160.86,245.58 L161.33,242.27 L161.81,243.13 L162.28,244.91 L162.76,240.79 L163.23,240.84 L163.71,239.75 L164.18,236.84 L164.66,239.81 L165.13,238.19 L165.61,237.21 L166.08,237.37 L166.56,238.50 L167.03,239.52 L167.51,238.30 L167.98,236.68 L168.46,235.56 L168.93,240.16 L169.41,241.61 L169.88,236.17 L170.36,236.98 L170.83,242.15 L171.31,239.59 L171.78,240.54 L172.26,239.19 L172.73,236.28 L173.21,240.43 L173.68,243.10 L174.16,243.43 L174.63,229.48 L175.11,232.99 L175.58,235.90 L176.06,236.64 L176.53,235.73 L177.01,236.12 L177.48,238.52 L177.96,242.64 L178.43,241.80 L178.91,240.42 L179.38,239.56 L179.86,239.08 L180.33,239.85 L180.81,241.03 L181.28,241.31 L181.76,240.15 L182.23,243.06 L182.71,244.56 L183.18,243.71 L183.66,245.83 L184.13,241.54 L184.61,235.81 L185.08,239.98 L185.56,242.56 L186.03,240.43 L186.51,240.83 L186.98,241.10 L187.45,239.51 L187.93,239.27 L188.40,240.91 L188.88,241.36 L189.35,238.08 L189.83,240.06 L190.30,246.06 L190.78,240.61 L191.25,238.63 L191.73,243.22 L192.20,246.90 L192.68,247.34 L193.15,249.60 L193.63,250.17 L194.10,245.17 L194.58,244.08 L195.05,248.68 L195.53,249.38 L196.00,250.18 L196.48,254.57 L196.95,254.61 L197.43,255.24 L197.90,254.09 L198.38,252.29 L198.85,251.85 L199.33,250.93 L199.80,260.15 L200.28,249.63 L200.75,251.14 L201.23,249.44 L201.70,252.56 L202.18,257.18 L202.65,256.25 L203.13,258.52 L203.60,261.61 L204.08,260.93 L204.55,257.41 L205.03,252.46 L205.50,254.37 L205.98,258.61 L206.45,259.07 L206.93,259.37 L207.40,260.67 L207.88,259.08 L208.35,257.76 L208.83,256.41 L209.30,249.54 L209.78,250.61 L210.25,259.48 L210.73,256.67 L211.20,255.63 L211.68,258.08 L212.15,254.97 L212.63,256.88 L213.10,258.61 L213.58,256.67 L214.05,257.00 L214.53,260.93 L215.00,265.36 L215.48,261.38 L215.95,263.92 L216.43,270.97 L216.90,273.85 L217.38,267.21 L217.85,262.91 L218.33,262.63 L218.80,264.05 L219.28,270.64 L219.75,268.14 L220.23,264.30 L220.70,268.63 L221.18,275.08 L221.65,274.18 L222.13,273.54 L222.60,271.04 L223.08,271.65 L223.55,279.53 L224.03,281.69 L224.50,289.00" stroke="#2020ff" stroke-width="0.65" opacity="0.85"/>
<path d="M34.60,194.00 C34.72,194.40 34.88,195.72 35.30,196.40 C35.72,197.08 36.20,197.43 37.10,198.10 C38.00,198.77 39.32,199.92 40.70,200.40 C42.08,200.88 43.82,201.00 45.40,201.00 C46.98,201.00 48.62,200.40 50.20,200.40 C51.78,200.40 53.32,200.70 54.90,201.00 C56.48,201.30 57.92,201.93 59.70,202.20 C61.48,202.47 63.82,202.80 65.60,202.60 C67.38,202.40 68.82,201.33 70.40,201.00 C71.98,200.67 73.52,200.50 75.10,200.60 C76.68,200.70 78.52,201.03 79.90,201.60 C81.28,202.17 82.33,202.77 83.40,204.00 C84.47,205.23 85.40,207.33 86.30,209.00 C87.20,210.67 88.10,212.42 88.80,214.00 C89.50,215.58 89.90,217.10 90.50,218.50 C91.10,219.90 91.38,221.23 92.40,222.40 C93.42,223.57 95.38,224.28 96.60,225.50 C97.82,226.72 98.83,228.30 99.70,229.70 C100.57,231.10 100.93,232.87 101.80,233.90 C102.67,234.93 103.33,235.38 104.90,235.90 C106.47,236.42 109.12,236.88 111.20,237.00 C113.28,237.12 115.33,236.67 117.40,236.60 C119.47,236.53 121.87,236.18 123.60,236.60 C125.33,237.02 126.58,237.82 127.80,239.10 C129.02,240.38 130.02,242.57 130.90,244.30 C131.78,246.03 132.22,247.22 133.10,249.50 C133.98,251.78 135.15,254.80 136.20,258.00 C137.25,261.20 138.35,265.70 139.40,268.70 C140.45,271.70 141.30,273.92 142.50,276.00 C143.70,278.08 145.22,279.98 146.60,281.20 C147.98,282.42 149.40,283.03 150.80,283.30 C152.20,283.57 153.62,283.15 155.00,282.80 C156.38,282.45 157.72,281.98 159.10,281.20 C160.48,280.42 161.92,279.13 163.30,278.10 C164.68,277.07 166.02,275.60 167.40,275.00 C168.78,274.40 169.87,274.43 171.60,274.50 C173.33,274.57 175.72,274.98 177.80,275.40 C179.88,275.82 182.02,276.38 184.10,277.00 C186.18,277.62 188.82,278.27 190.30,279.10 C191.78,279.93 192.05,280.60 193.00,282.00 C193.95,283.40 194.90,286.13 196.00,287.50 C197.10,288.87 198.22,289.48 199.60,290.20 C200.98,290.92 202.75,291.42 204.30,291.80 C205.85,292.18 207.62,292.25 208.90,292.50 C210.18,292.75 210.97,292.38 212.00,293.30 C213.03,294.22 214.07,296.20 215.10,298.00 C216.13,299.80 217.17,302.30 218.20,304.10 C219.23,305.90 220.40,307.90 221.30,308.80 C222.20,309.70 222.97,309.63 223.60,309.50 C224.23,309.37 224.58,310.18 225.10,308.00 C225.62,305.82 226.37,300.40 226.70,296.40 C227.03,292.40 227.03,286.07 227.10,284.00" stroke="#ff2020" stroke-width="1.4" opacity="1"/>
<path d="M34.60,193.00 C34.72,193.67 34.88,196.05 35.30,197.00 C35.72,197.95 36.40,198.23 37.10,198.70 C37.80,199.17 38.70,199.55 39.50,199.80 C40.30,200.05 40.92,200.20 41.90,200.20 C42.88,200.20 44.22,199.95 45.40,199.80 C46.58,199.65 47.80,199.30 49.00,199.30 C50.20,199.30 51.42,199.62 52.60,199.80 C53.78,199.98 54.72,200.20 56.10,200.40 C57.48,200.60 59.32,200.83 60.90,201.00 C62.48,201.17 64.02,201.40 65.60,201.40 C67.18,201.40 68.82,201.12 70.40,201.00 C71.98,200.88 73.52,200.70 75.10,200.70 C76.68,200.70 78.32,200.92 79.90,201.00 C81.48,201.08 83.20,201.27 84.60,201.20 C86.00,201.13 86.65,200.87 88.30,200.60 C89.95,200.33 92.42,199.77 94.50,199.60 C96.58,199.43 98.72,199.60 100.80,199.60 C102.88,199.60 104.97,199.53 107.00,199.60 C109.03,199.67 111.17,199.77 113.00,200.00 C114.83,200.23 116.48,200.93 118.00,201.00 C119.52,201.07 120.73,200.32 122.10,200.40 C123.47,200.48 125.12,200.90 126.20,201.50 C127.28,202.10 127.78,203.03 128.60,204.00 C129.42,204.97 130.28,206.08 131.10,207.30 C131.92,208.52 132.68,209.95 133.50,211.30 C134.32,212.65 135.18,213.90 136.00,215.40 C136.82,216.90 137.58,218.53 138.40,220.30 C139.22,222.07 140.08,224.08 140.90,226.00 C141.72,227.92 142.55,229.88 143.30,231.80 C144.05,233.72 144.67,235.72 145.40,237.50 C146.13,239.28 146.80,241.00 147.70,242.50 C148.60,244.00 149.75,245.63 150.80,246.50 C151.85,247.37 152.97,247.58 154.00,247.70 C155.03,247.82 155.98,247.72 157.00,247.20 C158.02,246.68 158.72,245.75 160.10,244.60 C161.48,243.45 163.65,241.27 165.30,240.30 C166.95,239.33 168.38,239.10 170.00,238.80 C171.62,238.50 173.33,238.37 175.00,238.50 C176.67,238.63 178.63,239.27 180.00,239.60 C181.37,239.93 182.15,240.25 183.20,240.50 C184.25,240.75 185.25,240.73 186.30,241.10 C187.35,241.47 188.43,241.90 189.50,242.70 C190.57,243.50 191.65,244.78 192.70,245.90 C193.75,247.02 194.75,248.15 195.80,249.40 C196.85,250.65 197.93,252.33 199.00,253.40 C200.07,254.47 201.15,255.28 202.20,255.80 C203.25,256.32 204.25,256.32 205.30,256.50 C206.35,256.68 207.43,256.77 208.50,256.90 C209.57,257.03 210.78,256.97 211.70,257.30 C212.62,257.63 213.22,257.97 214.00,258.90 C214.78,259.83 215.45,261.15 216.40,262.90 C217.35,264.65 218.77,267.28 219.70,269.40 C220.63,271.52 221.35,273.67 222.00,275.60 C222.65,277.53 223.15,279.47 223.60,281.00 C224.05,282.53 224.42,282.30 224.70,284.80 C224.98,287.30 225.13,292.97 225.30,296.00 C225.47,299.03 225.53,304.83 225.70,303.00 C225.87,301.17 226.12,291.83 226.30,285.00 C226.48,278.17 226.65,268.33 226.80,262.00 C226.95,255.67 227.13,249.50 227.20,247.00" stroke="#2020ff" stroke-width="1.4" opacity="1"/>
<path d="M34.50,188.80 L227.40,309.50" stroke="#000" stroke-width="1.6" opacity="1"/>
</g>
<rect x="25.4" y="183.2" width="211.2" height="133.7" fill="none" stroke="#b4b4b4" stroke-width="1.1"/>
<line x1="34.80" y1="316.9" x2="34.80" y2="318.0" stroke="#444" stroke-width="0.7"/>
<text x="34.80" y="322.50" font-family="DejaVu Sans" font-size="3.6" fill="#444" text-anchor="middle">0</text>
<line x1="58.40" y1="316.9" x2="58.40" y2="318.0" stroke="#444" stroke-width="0.7"/>
<text x="58.40" y="322.50" font-family="DejaVu Sans" font-size="3.6" fill="#444" text-anchor="middle">50</text>
<line x1="82.00" y1="316.9" x2="82.00" y2="318.0" stroke="#444" stroke-width="0.7"/>
<text x="82.00" y="322.50" font-family="DejaVu Sans" font-size="3.6" fill="#444" text-anchor="middle">100</text>
<line x1="105.60" y1="316.9" x2="105.60" y2="318.0" stroke="#444" stroke-width="0.7"/>
<text x="105.60" y="322.50" font-family="DejaVu Sans" font-size="3.6" fill="#444" text-anchor="middle">150</text>
<line x1="129.20" y1="316.9" x2="129.20" y2="318.0" stroke="#444" stroke-width="0.7"/>
<text x="129.20" y="322.50" font-family="DejaVu Sans" font-size="3.6" fill="#444" text-anchor="middle">200</text>
<line x1="152.80" y1="316.9" x2="152.80" y2="318.0" stroke="#444" stroke-width="0.7"/>
<text x="152.80" y="322.50" font-family="DejaVu Sans" font-size="3.6" fill="#444" text-anchor="middle">250</text>
<line x1="176.40" y1="316.9" x2="176.40" y2="318.0" stroke="#444" stroke-width="0.7"/>
<text x="176.40" y="322.50" font-family="DejaVu Sans" font-size="3.6" fill="#444" text-anchor="middle">300</text>
<line x1="200.00" y1="316.9" x2="200.00" y2="318.0" stroke="#444" stroke-width="0.7"/>
<text x="200.00" y="322.50" font-family="DejaVu Sans" font-size="3.6" fill="#444" text-anchor="middle">350</text>
<line x1="223.60" y1="316.9" x2="223.60" y2="318.0" stroke="#444" stroke-width="0.7"/>
<text x="223.60" y="322.50" font-family="DejaVu Sans" font-size="3.6" fill="#444" text-anchor="middle">400</text>
<line x1="24.299999999999997" y1="309.40" x2="25.4" y2="309.40" stroke="#444" stroke-width="0.7"/>
<text x="23.0" y="311.15" font-family="DejaVu Sans" font-size="3.6" fill="#444" text-anchor="end">0.0</text>
<line x1="24.299999999999997" y1="285.36" x2="25.4" y2="285.36" stroke="#444" stroke-width="0.7"/>
<text x="23.0" y="287.11" font-family="DejaVu Sans" font-size="3.6" fill="#444" text-anchor="end">0.2</text>
<line x1="24.299999999999997" y1="261.32" x2="25.4" y2="261.32" stroke="#444" stroke-width="0.7"/>
<text x="23.0" y="263.07" font-family="DejaVu Sans" font-size="3.6" fill="#444" text-anchor="end">0.4</text>
<line x1="24.299999999999997" y1="237.28" x2="25.4" y2="237.28" stroke="#444" stroke-width="0.7"/>
<text x="23.0" y="239.03" font-family="DejaVu Sans" font-size="3.6" fill="#444" text-anchor="end">0.6</text>
<line x1="24.299999999999997" y1="213.24" x2="25.4" y2="213.24" stroke="#444" stroke-width="0.7"/>
<text x="23.0" y="214.99" font-family="DejaVu Sans" font-size="3.6" fill="#444" text-anchor="end">0.8</text>
<line x1="24.299999999999997" y1="189.20" x2="25.4" y2="189.20" stroke="#444" stroke-width="0.7"/>
<text x="23.0" y="190.95" font-family="DejaVu Sans" font-size="3.6" fill="#444" text-anchor="end">1.0</text>
<text x="130.7" y="326.3" font-family="DejaVu Sans" font-size="4.9" fill="#222" text-anchor="middle" dominant-baseline="central">Samples</text>
<text transform="translate(13.6,250.5) rotate(-90)" font-family="DejaVu Sans" font-size="4.9" fill="#222" text-anchor="middle" dominant-baseline="central">RUL</text>
<rect x="165.3" y="185.9" width="68.69999999999999" height="17.299999999999983" rx="0.8" fill="#fff" stroke="#555" stroke-width="0.7"/>
<text x="185.0" y="191.05" font-family="Liberation Serif" font-size="5" fill="#000" stroke="#000" stroke-width="0.08" text-anchor="middle" text-rendering="geometricPrecision" transform="translate(185.0 189.3) scale(1 1.12) translate(-185.0 -189.3)">Attention-GRU</text>
<text x="185.0" y="196.25" font-family="Liberation Serif" font-size="5" fill="#000" stroke="#000" stroke-width="0.08" text-anchor="middle" text-rendering="geometricPrecision" transform="translate(185.0 194.5) scale(1 1.12) translate(-185.0 -194.5)">Non-Attention</text>
<text x="185.0" y="201.35" font-family="Liberation Serif" font-size="5" fill="#000" stroke="#000" stroke-width="0.08" text-anchor="middle" text-rendering="geometricPrecision" transform="translate(185.0 199.6) scale(1 1.12) translate(-185.0 -199.6)">Actual RUL</text>
<line x1="214.3" y1="189.1" x2="231.1" y2="189.1" stroke="#ff2020" stroke-width="1.5"/>
<line x1="214.3" y1="194.9" x2="231.1" y2="194.9" stroke="#2020ff" stroke-width="1.5"/>
<line x1="214.3" y1="200.6" x2="231.1" y2="200.6" stroke="#000" stroke-width="1.5"/>
<text x="104.4" y="346.8" font-family="Liberation Serif" font-size="11.7" fill="#111" letter-spacing="0.12"><tspan font-weight="bold">(c)</tspan> B2_3</text>
<clipPath id="cd"><rect x="282.7" y="179.6" width="215.5" height="138.79999999999998"/></clipPath>
<g clip-path="url(#cd)" fill="none" stroke-linejoin="round" stroke-linecap="round">
<path d="M291.80,186.20 L299.20,193.10 L306.80,200.70 L314.40,217.00 L322.00,227.90 L329.70,232.30 L337.30,232.70 L344.90,232.70 L352.50,235.60 L355.00,238.20 L361.20,243.50 L367.50,248.90 L373.70,253.30 L381.70,255.10 L388.00,253.30 L394.20,250.70 L398.70,248.90 L404.00,247.40 L407.60,251.50 L412.00,256.90 L415.60,265.80 L420.70,280.80 L427.80,296.00 L435.00,293.30 L443.00,283.50 L449.20,284.40 L457.20,287.00 L463.50,284.40 L472.40,278.10 L480.40,279.60 L484.00,287.00 L488.40,294.20" stroke="#ff2020" stroke-width="1.4" opacity="1"/>
<path d="M291.80,186.20 L299.20,213.80 L306.80,226.80 L314.40,231.20 L322.00,227.90 L329.70,223.10 L337.30,220.30 L344.90,221.00 L352.50,223.60 L360.20,225.10 L365.70,226.10 L375.50,227.80 L384.40,231.00 L396.90,233.70 L405.30,233.40 L412.00,232.80 L422.70,234.60 L431.60,236.40 L438.80,237.30 L442.30,239.30 L446.60,244.30 L451.00,249.70 L454.60,257.60 L461.70,269.20 L468.80,279.00 L476.00,289.70 L482.20,300.40 L487.60,311.50" stroke="#2020ff" stroke-width="1.4" opacity="1"/>
<path d="M292.00,186.30 L487.90,312.10" stroke="#000" stroke-width="1.6" opacity="1"/>
</g>
<rect x="282.7" y="179.6" width="215.5" height="138.79999999999998" fill="none" stroke="#b4b4b4" stroke-width="1.1"/>
<line x1="292.00" y1="318.4" x2="292.00" y2="319.5" stroke="#444" stroke-width="0.7"/>
<text x="292.00" y="323.50" font-family="DejaVu Sans" font-size="3.6" fill="#444" text-anchor="middle">0</text>
<line x1="322.15" y1="318.4" x2="322.15" y2="319.5" stroke="#444" stroke-width="0.7"/>
<text x="322.15" y="323.50" font-family="DejaVu Sans" font-size="3.6" fill="#444" text-anchor="middle">2</text>
<line x1="352.30" y1="318.4" x2="352.30" y2="319.5" stroke="#444" stroke-width="0.7"/>
<text x="352.30" y="323.50" font-family="DejaVu Sans" font-size="3.6" fill="#444" text-anchor="middle">4</text>
<line x1="382.45" y1="318.4" x2="382.45" y2="319.5" stroke="#444" stroke-width="0.7"/>
<text x="382.45" y="323.50" font-family="DejaVu Sans" font-size="3.6" fill="#444" text-anchor="middle">6</text>
<line x1="412.60" y1="318.4" x2="412.60" y2="319.5" stroke="#444" stroke-width="0.7"/>
<text x="412.60" y="323.50" font-family="DejaVu Sans" font-size="3.6" fill="#444" text-anchor="middle">8</text>
<line x1="442.75" y1="318.4" x2="442.75" y2="319.5" stroke="#444" stroke-width="0.7"/>
<text x="442.75" y="323.50" font-family="DejaVu Sans" font-size="3.6" fill="#444" text-anchor="middle">10</text>
<line x1="472.90" y1="318.4" x2="472.90" y2="319.5" stroke="#444" stroke-width="0.7"/>
<text x="472.90" y="323.50" font-family="DejaVu Sans" font-size="3.6" fill="#444" text-anchor="middle">12</text>
<line x1="281.59999999999997" y1="312.10" x2="282.7" y2="312.10" stroke="#444" stroke-width="0.7"/>
<text x="280.3" y="313.85" font-family="DejaVu Sans" font-size="3.6" fill="#444" text-anchor="end">0.0</text>
<line x1="281.59999999999997" y1="286.94" x2="282.7" y2="286.94" stroke="#444" stroke-width="0.7"/>
<text x="280.3" y="288.69" font-family="DejaVu Sans" font-size="3.6" fill="#444" text-anchor="end">0.2</text>
<line x1="281.59999999999997" y1="261.78" x2="282.7" y2="261.78" stroke="#444" stroke-width="0.7"/>
<text x="280.3" y="263.53" font-family="DejaVu Sans" font-size="3.6" fill="#444" text-anchor="end">0.4</text>
<line x1="281.59999999999997" y1="236.62" x2="282.7" y2="236.62" stroke="#444" stroke-width="0.7"/>
<text x="280.3" y="238.37" font-family="DejaVu Sans" font-size="3.6" fill="#444" text-anchor="end">0.6</text>
<line x1="281.59999999999997" y1="211.46" x2="282.7" y2="211.46" stroke="#444" stroke-width="0.7"/>
<text x="280.3" y="213.21" font-family="DejaVu Sans" font-size="3.6" fill="#444" text-anchor="end">0.8</text>
<line x1="281.59999999999997" y1="186.30" x2="282.7" y2="186.30" stroke="#444" stroke-width="0.7"/>
<text x="280.3" y="188.05" font-family="DejaVu Sans" font-size="3.6" fill="#444" text-anchor="end">1.0</text>
<text x="389.6" y="327.1" font-family="DejaVu Sans" font-size="4.9" fill="#222" text-anchor="middle" dominant-baseline="central">Samples</text>
<text transform="translate(270.1,249.5) rotate(-90)" font-family="DejaVu Sans" font-size="4.9" fill="#222" text-anchor="middle" dominant-baseline="central">RUL</text>
<rect x="425.3" y="181.9" width="70.30000000000001" height="18.19999999999999" rx="0.8" fill="#fff" stroke="#555" stroke-width="0.7"/>
<text x="445.0" y="187.75" font-family="Liberation Serif" font-size="5" fill="#000" stroke="#000" stroke-width="0.08" text-anchor="middle" text-rendering="geometricPrecision" transform="translate(445.0 186.0) scale(1 1.12) translate(-445.0 -186.0)">Attention-GRU</text>
<text x="445.0" y="192.65" font-family="Liberation Serif" font-size="5" fill="#000" stroke="#000" stroke-width="0.08" text-anchor="middle" text-rendering="geometricPrecision" transform="translate(445.0 190.9) scale(1 1.12) translate(-445.0 -190.9)">Non-Attention</text>
<text x="445.0" y="197.65" font-family="Liberation Serif" font-size="5" fill="#000" stroke="#000" stroke-width="0.08" text-anchor="middle" text-rendering="geometricPrecision" transform="translate(445.0 195.9) scale(1 1.12) translate(-445.0 -195.9)">Actual RUL</text>
<line x1="474.9" y1="185.5" x2="492.3" y2="185.5" stroke="#ff2020" stroke-width="1.5"/>
<line x1="474.9" y1="191.4" x2="492.3" y2="191.4" stroke="#2020ff" stroke-width="1.5"/>
<line x1="474.9" y1="197.4" x2="492.3" y2="197.4" stroke="#000" stroke-width="1.5"/>
<text x="360.1" y="345.8" font-family="Liberation Serif" font-size="11.7" fill="#111" letter-spacing="0.12"><tspan font-weight="bold">(d)</tspan> B2_4</text>
<clipPath id="ce"><rect x="19.5" y="364.4" width="225.1" height="144.0"/></clipPath>
<g clip-path="url(#ce)" fill="none" stroke-linejoin="round" stroke-linecap="round">
<path d="M29.50,372.00 C29.75,374.77 30.28,385.14 31.00,388.65 C31.72,392.15 33.19,391.77 33.82,393.02 C34.45,394.28 34.13,396.14 34.76,396.18 C35.39,396.21 36.95,393.60 37.58,393.24 C38.21,392.88 38.21,394.32 38.52,394.00 C38.83,393.68 38.83,391.47 39.46,391.30 C40.09,391.14 41.34,393.16 42.28,393.00 C43.22,392.84 44.32,390.37 45.10,390.36 C45.88,390.35 46.20,392.93 46.98,392.95 C47.76,392.97 49.17,390.88 49.80,390.49 C50.43,390.11 50.43,390.38 50.74,390.62 C51.05,390.87 51.21,391.12 51.68,391.97 C52.15,392.82 52.78,394.72 53.56,395.73 C54.34,396.74 55.75,397.90 56.38,398.04 C57.01,398.17 56.85,397.38 57.32,396.54 C57.79,395.70 58.73,393.05 59.20,393.00 C59.67,392.95 59.51,396.20 60.14,396.22 C60.77,396.23 62.18,392.89 62.96,393.09 C63.74,393.29 64.21,397.29 64.84,397.41 C65.47,397.53 65.94,393.73 66.72,393.82 C67.50,393.91 68.60,397.54 69.54,397.94 C70.48,398.34 71.58,394.79 72.36,396.21 C73.14,397.62 73.46,404.69 74.24,406.41 C75.02,408.12 76.43,407.16 77.06,406.50 C77.69,405.84 77.37,403.52 78.00,402.42 C78.63,401.32 80.19,399.82 80.82,399.91 C81.45,400.00 81.45,402.94 81.76,402.97 C82.07,402.99 82.23,399.92 82.70,400.06 C83.17,400.21 83.95,403.59 84.58,403.84 C85.21,404.08 85.83,400.45 86.46,401.51 C87.09,402.57 87.56,409.57 88.34,410.20 C89.12,410.83 90.53,404.66 91.16,405.28 C91.79,405.89 91.79,413.51 92.10,413.88 C92.41,414.26 92.73,407.29 93.04,407.52 C93.35,407.75 93.35,413.93 93.98,415.27 C94.61,416.60 96.02,413.63 96.80,415.52 C97.58,417.40 97.90,424.80 98.68,426.59 C99.46,428.38 100.87,423.92 101.50,426.27 C102.13,428.62 101.97,440.44 102.44,440.68 C102.91,440.93 103.69,428.27 104.32,427.74 C104.95,427.20 105.73,437.24 106.20,437.50 C106.67,437.76 106.51,427.15 107.14,429.32 C107.77,431.48 109.18,450.40 109.96,450.50 C110.74,450.59 111.06,433.02 111.84,429.91 C112.62,426.80 113.72,435.24 114.66,431.81 C115.60,428.38 116.54,410.33 117.48,409.33 C118.42,408.33 119.36,424.67 120.30,425.78 C121.24,426.90 122.18,417.04 123.12,416.03 C124.06,415.02 125.00,420.76 125.94,419.72 C126.88,418.69 127.98,407.25 128.76,409.82 C129.54,412.40 129.86,434.02 130.64,435.17 C131.42,436.32 132.68,418.73 133.46,416.73 C134.24,414.72 134.56,423.61 135.34,423.14 C136.12,422.68 137.53,413.74 138.16,413.91 C138.79,414.09 138.63,420.62 139.10,424.20 C139.57,427.78 140.20,436.76 140.98,435.40 C141.76,434.03 142.86,418.14 143.80,416.02 C144.74,413.91 145.84,418.63 146.62,422.72 C147.40,426.80 147.72,439.95 148.50,440.54 C149.28,441.13 150.69,429.52 151.32,426.27 C151.95,423.02 151.79,420.48 152.26,421.06 C152.73,421.64 153.51,426.57 154.14,429.74 C154.77,432.91 155.24,438.61 156.02,440.06 C156.80,441.50 158.21,436.58 158.84,438.41 C159.47,440.24 159.15,448.75 159.78,451.04 C160.41,453.33 161.97,450.83 162.60,452.13 C163.23,453.44 163.07,457.67 163.54,458.88 C164.01,460.10 164.64,457.52 165.42,459.43 C166.20,461.34 167.30,469.99 168.24,470.35 C169.18,470.71 170.43,461.56 171.06,461.59 C171.69,461.63 171.53,470.65 172.00,470.56 C172.47,470.46 173.25,461.53 173.88,461.03 C174.51,460.53 175.29,467.95 175.76,467.54 C176.23,467.13 176.23,459.27 176.70,458.59 C177.17,457.91 178.11,463.85 178.58,463.48 C179.05,463.11 178.89,461.31 179.52,456.39 C180.15,451.46 181.71,435.26 182.34,433.94 C182.97,432.62 182.81,445.51 183.28,448.46 C183.75,451.41 184.53,452.40 185.16,451.65 C185.79,450.90 186.41,444.41 187.04,443.95 C187.67,443.49 188.45,448.89 188.92,448.89 C189.39,448.88 189.55,443.85 189.86,443.94 C190.17,444.03 190.49,449.80 190.80,449.41 C191.11,449.02 191.27,441.70 191.74,441.58 C192.21,441.47 192.99,448.53 193.62,448.73 C194.25,448.92 194.87,443.68 195.50,442.75 C196.13,441.82 196.75,441.64 197.38,443.17 C198.01,444.70 198.79,449.13 199.26,451.94 C199.73,454.76 199.89,458.90 200.20,460.05 C200.51,461.20 200.83,457.89 201.14,458.84 C201.45,459.78 201.61,464.66 202.08,465.73 C202.55,466.80 203.33,463.48 203.96,465.25 C204.59,467.02 205.37,474.62 205.84,476.35 C206.31,478.08 206.31,474.16 206.78,475.62 C207.25,477.09 207.88,484.31 208.66,485.13 C209.44,485.95 210.85,482.33 211.48,480.55 C212.11,478.77 211.95,473.92 212.42,474.46 C212.89,474.99 213.83,479.64 214.30,483.76 C214.77,487.88 214.61,501.21 215.24,499.18 C215.87,497.16 217.43,475.19 218.06,471.60 C218.69,468.00 218.37,480.33 219.00,477.60 C219.63,474.87 221.04,456.43 221.82,455.20 C222.60,453.98 223.23,468.75 223.70,470.24 C224.17,471.74 224.33,463.86 224.64,464.17 C224.95,464.48 225.27,471.05 225.58,472.09 C225.89,473.13 226.21,468.70 226.52,470.39 C226.83,472.08 226.99,478.68 227.46,482.23 C227.93,485.78 228.71,488.64 229.34,491.70 C229.97,494.75 230.44,500.31 231.22,500.57 C232.00,500.83 233.57,494.46 234.04,493.24" stroke="#ff2020" stroke-width="0.7" opacity="0.85"/>
<path d="M29.50,371.50 C29.75,374.75 30.44,387.27 31.00,390.99 C31.56,394.71 32.10,393.23 32.88,393.82 C33.66,394.40 34.76,396.04 35.70,394.48 C36.64,392.93 37.58,386.68 38.52,384.49 C39.46,382.31 40.71,382.42 41.34,381.35 C41.97,380.28 41.97,378.42 42.28,378.09 C42.59,377.75 42.59,379.56 43.22,379.35 C43.85,379.13 45.10,376.35 46.04,376.78 C46.98,377.21 48.08,381.87 48.86,381.92 C49.64,381.98 49.96,377.04 50.74,377.10 C51.52,377.16 52.62,381.76 53.56,382.29 C54.50,382.82 55.44,380.25 56.38,380.27 C57.32,380.30 58.57,382.36 59.20,382.42 C59.83,382.49 59.83,380.43 60.14,380.66 C60.45,380.90 60.61,383.79 61.08,383.81 C61.55,383.84 62.18,380.58 62.96,380.81 C63.74,381.04 64.84,384.96 65.78,385.21 C66.72,385.47 67.82,382.23 68.60,382.34 C69.38,382.45 69.70,385.52 70.48,385.86 C71.26,386.20 72.36,382.97 73.30,384.38 C74.24,385.80 75.18,393.00 76.12,394.33 C77.06,395.67 78.31,393.13 78.94,392.39 C79.57,391.65 79.41,390.94 79.88,389.90 C80.35,388.86 80.98,386.02 81.76,386.15 C82.54,386.27 83.95,390.55 84.58,390.67 C85.21,390.78 85.21,386.60 85.52,386.83 C85.83,387.07 85.99,391.47 86.46,392.07 C86.93,392.68 87.87,389.22 88.34,390.45 C88.81,391.69 88.97,398.98 89.28,399.48 C89.59,399.99 89.91,393.35 90.22,393.48 C90.53,393.61 90.53,399.49 91.16,400.25 C91.79,401.00 93.35,397.01 93.98,398.01 C94.61,399.01 94.61,406.04 94.92,406.26 C95.23,406.48 95.39,398.86 95.86,399.31 C96.33,399.77 97.11,407.99 97.74,408.99 C98.37,409.99 98.99,404.51 99.62,405.30 C100.25,406.09 101.03,413.36 101.50,413.74 C101.97,414.13 101.81,407.99 102.44,407.60 C103.07,407.21 104.63,410.28 105.26,411.41 C105.89,412.53 105.73,414.49 106.20,414.36 C106.67,414.22 107.30,412.32 108.08,410.59 C108.86,408.85 109.96,404.84 110.90,403.94 C111.84,403.04 112.78,408.55 113.72,405.16 C114.66,401.77 115.76,384.22 116.54,383.63 C117.32,383.04 117.95,399.96 118.42,401.61 C118.89,403.27 119.05,394.33 119.36,393.57 C119.67,392.80 119.67,397.49 120.30,397.04 C120.93,396.60 122.49,391.20 123.12,390.91 C123.75,390.62 123.59,395.98 124.06,395.30 C124.53,394.62 125.16,386.72 125.94,386.83 C126.72,386.95 128.13,396.48 128.76,396.01 C129.39,395.54 129.39,384.28 129.70,384.01 C130.01,383.73 130.17,393.19 130.64,394.37 C131.11,395.56 131.74,390.78 132.52,391.14 C133.30,391.49 134.56,396.37 135.34,396.49 C136.12,396.60 136.75,393.36 137.22,391.82 C137.69,390.29 137.53,384.10 138.16,387.26 C138.79,390.43 140.35,408.70 140.98,410.79 C141.61,412.88 141.45,402.83 141.92,399.82 C142.39,396.81 143.33,394.33 143.80,392.72 C144.27,391.11 144.27,390.02 144.74,390.17 C145.21,390.32 146.15,391.27 146.62,393.60 C147.09,395.93 147.25,403.75 147.56,404.15 C147.87,404.56 148.03,393.92 148.50,396.05 C148.97,398.17 149.60,415.71 150.38,416.91 C151.16,418.10 152.57,404.45 153.20,403.19 C153.83,401.93 153.51,408.35 154.14,409.34 C154.77,410.33 156.33,407.08 156.96,409.14 C157.59,411.21 157.43,420.21 157.90,421.72 C158.37,423.22 159.00,416.44 159.78,418.16 C160.56,419.89 161.97,430.01 162.60,432.05 C163.23,434.10 163.23,429.56 163.54,430.45 C163.85,431.35 164.01,438.56 164.48,437.43 C164.95,436.30 165.58,422.88 166.36,423.67 C167.14,424.47 168.40,440.33 169.18,442.20 C169.96,444.08 170.28,434.98 171.06,434.94 C171.84,434.91 172.94,442.17 173.88,441.99 C174.82,441.81 175.76,431.76 176.70,433.88 C177.64,436.00 178.89,458.44 179.52,454.72 C180.15,451.00 179.83,415.32 180.46,411.56 C181.09,407.80 182.34,430.19 183.28,432.16 C184.22,434.12 185.32,423.78 186.10,423.37 C186.88,422.96 187.51,429.72 187.98,429.68 C188.45,429.64 188.61,423.01 188.92,423.14 C189.23,423.27 189.39,429.82 189.86,430.45 C190.33,431.07 191.27,426.55 191.74,426.87 C192.21,427.19 192.21,431.79 192.68,432.36 C193.15,432.93 194.09,429.48 194.56,430.30 C195.03,431.12 195.19,437.06 195.50,437.26 C195.81,437.46 195.97,432.17 196.44,431.50 C196.91,430.83 197.54,431.50 198.32,433.25 C199.10,435.00 200.51,438.86 201.14,442.01 C201.77,445.15 201.77,451.13 202.08,452.11 C202.39,453.09 202.55,446.21 203.02,447.88 C203.49,449.55 204.43,460.18 204.90,462.14 C205.37,464.10 205.21,458.23 205.84,459.64 C206.47,461.05 208.03,468.96 208.66,470.61 C209.29,472.25 209.13,468.90 209.60,469.51 C210.07,470.12 211.01,475.89 211.48,474.25 C211.95,472.60 211.79,459.69 212.42,459.64 C213.05,459.59 214.61,470.97 215.24,473.95 C215.87,476.92 215.55,479.03 216.18,477.49 C216.81,475.95 218.37,468.85 219.00,464.70 C219.63,460.56 219.47,456.49 219.94,452.60 C220.41,448.71 221.04,441.67 221.82,441.37 C222.60,441.07 224.01,447.21 224.64,450.81 C225.27,454.42 225.11,459.20 225.58,463.00 C226.05,466.79 226.99,474.93 227.46,473.58 C227.93,472.23 227.77,455.46 228.40,454.90 C229.03,454.34 230.28,467.75 231.22,470.22 C232.16,472.68 233.57,469.78 234.04,469.69" stroke="#2020ff" stroke-width="0.7" opacity="0.85"/>
<path d="M29.70,376.00 C29.83,377.50 30.05,382.22 30.50,385.00 C30.95,387.78 31.73,391.07 32.40,392.70 C33.07,394.33 33.68,394.57 34.50,394.80 C35.32,395.03 36.50,394.57 37.30,394.10 C38.10,393.63 38.38,392.45 39.30,392.00 C40.22,391.55 41.52,391.40 42.80,391.40 C44.08,391.40 45.62,391.78 47.00,392.00 C48.38,392.22 49.48,392.35 51.10,392.70 C52.72,393.05 54.85,393.75 56.70,394.10 C58.55,394.45 60.35,394.45 62.20,394.80 C64.05,395.15 65.95,395.50 67.80,396.20 C69.65,396.90 71.45,398.18 73.30,399.00 C75.15,399.82 77.05,400.55 78.90,401.10 C80.75,401.65 82.88,401.68 84.40,402.30 C85.92,402.92 86.82,403.65 88.00,404.80 C89.18,405.95 90.35,407.43 91.50,409.20 C92.65,410.97 93.75,413.10 94.90,415.40 C96.05,417.70 97.23,420.57 98.40,423.00 C99.57,425.43 100.63,428.27 101.90,430.00 C103.17,431.73 104.62,432.83 106.00,433.40 C107.38,433.97 108.92,433.97 110.20,433.40 C111.48,432.83 112.55,431.27 113.70,430.00 C114.85,428.73 115.95,427.20 117.10,425.80 C118.25,424.40 119.43,422.75 120.60,421.60 C121.77,420.45 122.83,419.53 124.10,418.90 C125.37,418.27 126.82,417.82 128.20,417.80 C129.58,417.78 131.27,418.30 132.40,418.80 C133.53,419.30 133.98,420.27 135.00,420.80 C136.02,421.33 137.32,421.70 138.50,422.00 C139.68,422.30 140.92,422.32 142.10,422.60 C143.28,422.88 144.42,423.12 145.60,423.70 C146.78,424.28 148.02,425.12 149.20,426.10 C150.38,427.08 151.62,428.22 152.70,429.60 C153.78,430.98 154.72,432.42 155.70,434.40 C156.68,436.38 157.67,438.68 158.60,441.50 C159.53,444.32 160.23,448.10 161.30,451.30 C162.37,454.50 163.75,458.35 165.00,460.70 C166.25,463.05 167.53,464.47 168.80,465.40 C170.07,466.33 171.35,466.62 172.60,466.30 C173.85,465.98 175.05,464.90 176.30,463.50 C177.55,462.10 178.83,459.93 180.10,457.90 C181.37,455.87 182.65,453.18 183.90,451.30 C185.15,449.42 186.35,447.55 187.60,446.60 C188.85,445.65 190.17,445.42 191.40,445.60 C192.63,445.78 193.95,446.67 195.00,447.70 C196.05,448.73 196.80,449.98 197.70,451.80 C198.60,453.62 199.48,456.10 200.40,458.60 C201.32,461.10 202.28,464.07 203.20,466.80 C204.12,469.53 205.00,472.50 205.90,475.00 C206.80,477.50 207.70,479.98 208.60,481.80 C209.50,483.62 210.38,485.22 211.30,485.90 C212.22,486.58 213.18,486.82 214.10,485.90 C215.02,484.98 215.90,482.90 216.80,480.40 C217.70,477.90 218.60,473.52 219.50,470.90 C220.40,468.28 221.40,465.50 222.20,464.70 C223.00,463.90 223.62,464.62 224.30,466.10 C224.98,467.58 225.62,470.77 226.30,473.60 C226.98,476.43 227.83,480.38 228.40,483.10 C228.97,485.82 229.25,489.22 229.70,489.90 C230.15,490.58 230.63,489.23 231.10,487.20 C231.57,485.17 232.05,477.82 232.50,477.70 C232.95,477.58 233.47,483.37 233.80,486.50 C234.13,489.63 234.38,494.83 234.50,496.50" stroke="#ff2020" stroke-width="1.4" opacity="1"/>
<path d="M29.70,374.00 C29.80,375.97 29.97,382.68 30.30,385.80 C30.63,388.92 31.12,391.08 31.70,392.70 C32.28,394.32 33.10,395.38 33.80,395.50 C34.50,395.62 35.20,394.78 35.90,393.40 C36.60,392.02 37.32,389.17 38.00,387.20 C38.68,385.23 39.20,382.98 40.00,381.60 C40.80,380.22 41.63,379.35 42.80,378.90 C43.97,378.45 45.38,378.72 47.00,378.90 C48.62,379.08 50.65,379.58 52.50,380.00 C54.35,380.42 56.25,381.02 58.10,381.40 C59.95,381.78 61.75,381.92 63.60,382.30 C65.45,382.68 67.35,383.12 69.20,383.70 C71.05,384.28 72.85,385.10 74.70,385.80 C76.55,386.50 78.45,387.20 80.30,387.90 C82.15,388.60 84.52,389.15 85.80,390.00 C87.08,390.85 86.93,391.62 88.00,393.00 C89.07,394.38 90.82,396.38 92.20,398.30 C93.58,400.22 94.92,402.77 96.30,404.50 C97.68,406.23 99.12,407.83 100.50,408.70 C101.88,409.57 103.22,409.82 104.60,409.70 C105.98,409.58 107.40,408.98 108.80,408.00 C110.20,407.02 111.62,405.30 113.00,403.80 C114.38,402.30 115.72,400.50 117.10,399.00 C118.48,397.50 119.92,395.88 121.30,394.80 C122.68,393.72 124.02,392.97 125.40,392.50 C126.78,392.03 128.20,391.92 129.60,392.00 C131.00,392.08 132.32,392.43 133.80,393.00 C135.28,393.57 137.12,394.90 138.50,395.40 C139.88,395.90 140.92,395.62 142.10,396.00 C143.28,396.38 144.42,396.92 145.60,397.70 C146.78,398.48 148.02,399.52 149.20,400.70 C150.38,401.88 151.62,403.13 152.70,404.80 C153.78,406.47 154.82,408.53 155.70,410.70 C156.58,412.87 157.22,415.43 158.00,417.80 C158.78,420.17 159.50,422.53 160.40,424.90 C161.30,427.27 162.32,429.93 163.40,432.00 C164.48,434.07 165.72,436.02 166.90,437.30 C168.08,438.58 169.32,439.50 170.50,439.70 C171.68,439.90 172.82,439.28 174.00,438.50 C175.18,437.72 176.42,436.28 177.60,435.00 C178.78,433.72 180.02,432.03 181.10,430.80 C182.18,429.57 182.70,428.10 184.10,427.60 C185.50,427.10 187.97,427.23 189.50,427.80 C191.03,428.37 192.38,429.83 193.30,431.00 C194.22,432.17 194.27,433.60 195.00,434.80 C195.73,436.00 196.80,436.73 197.70,438.20 C198.60,439.67 199.48,441.33 200.40,443.60 C201.32,445.87 202.28,448.85 203.20,451.80 C204.12,454.75 205.00,458.47 205.90,461.30 C206.80,464.13 207.70,466.98 208.60,468.80 C209.50,470.62 210.38,471.63 211.30,472.20 C212.22,472.77 213.18,472.88 214.10,472.20 C215.02,471.52 215.90,470.37 216.80,468.10 C217.70,465.83 218.60,461.32 219.50,458.60 C220.40,455.88 221.40,452.70 222.20,451.80 C223.00,450.90 223.62,451.62 224.30,453.20 C224.98,454.78 225.62,458.35 226.30,461.30 C226.98,464.25 227.83,468.40 228.40,470.90 C228.97,473.40 229.25,476.08 229.70,476.30 C230.15,476.52 230.63,474.02 231.10,472.20 C231.57,470.38 232.05,464.93 232.50,465.40 C232.95,465.87 233.47,471.82 233.80,475.00 C234.13,478.18 234.38,482.92 234.50,484.50" stroke="#2020ff" stroke-width="1.4" opacity="1"/>
<path d="M29.50,370.80 L234.60,502.00" stroke="#000" stroke-width="1.6" opacity="1"/>
</g>
<rect x="19.5" y="364.4" width="225.1" height="144.0" fill="none" stroke="#b4b4b4" stroke-width="1.1"/>
<line x1="29.70" y1="508.4" x2="29.70" y2="509.5" stroke="#444" stroke-width="0.7"/>
<text x="29.70" y="514.30" font-family="DejaVu Sans" font-size="3.6" fill="#444" text-anchor="middle">0</text>
<line x1="76.50" y1="508.4" x2="76.50" y2="509.5" stroke="#444" stroke-width="0.7"/>
<text x="76.50" y="514.30" font-family="DejaVu Sans" font-size="3.6" fill="#444" text-anchor="middle">50</text>
<line x1="123.30" y1="508.4" x2="123.30" y2="509.5" stroke="#444" stroke-width="0.7"/>
<text x="123.30" y="514.30" font-family="DejaVu Sans" font-size="3.6" fill="#444" text-anchor="middle">100</text>
<line x1="170.10" y1="508.4" x2="170.10" y2="509.5" stroke="#444" stroke-width="0.7"/>
<text x="170.10" y="514.30" font-family="DejaVu Sans" font-size="3.6" fill="#444" text-anchor="middle">150</text>
<line x1="216.90" y1="508.4" x2="216.90" y2="509.5" stroke="#444" stroke-width="0.7"/>
<text x="216.90" y="514.30" font-family="DejaVu Sans" font-size="3.6" fill="#444" text-anchor="middle">200</text>
<line x1="18.4" y1="502.10" x2="19.5" y2="502.10" stroke="#444" stroke-width="0.7"/>
<text x="17.1" y="503.85" font-family="DejaVu Sans" font-size="3.6" fill="#444" text-anchor="end">0.0</text>
<line x1="18.4" y1="475.88" x2="19.5" y2="475.88" stroke="#444" stroke-width="0.7"/>
<text x="17.1" y="477.63" font-family="DejaVu Sans" font-size="3.6" fill="#444" text-anchor="end">0.2</text>
<line x1="18.4" y1="449.66" x2="19.5" y2="449.66" stroke="#444" stroke-width="0.7"/>
<text x="17.1" y="451.41" font-family="DejaVu Sans" font-size="3.6" fill="#444" text-anchor="end">0.4</text>
<line x1="18.4" y1="423.44" x2="19.5" y2="423.44" stroke="#444" stroke-width="0.7"/>
<text x="17.1" y="425.19" font-family="DejaVu Sans" font-size="3.6" fill="#444" text-anchor="end">0.6</text>
<line x1="18.4" y1="397.22" x2="19.5" y2="397.22" stroke="#444" stroke-width="0.7"/>
<text x="17.1" y="398.97" font-family="DejaVu Sans" font-size="3.6" fill="#444" text-anchor="end">0.8</text>
<line x1="18.4" y1="371.00" x2="19.5" y2="371.00" stroke="#444" stroke-width="0.7"/>
<text x="17.1" y="372.75" font-family="DejaVu Sans" font-size="3.6" fill="#444" text-anchor="end">1.0</text>
<text x="131.8" y="518.4" font-family="DejaVu Sans" font-size="5.2" fill="#222" text-anchor="middle" dominant-baseline="central">Samples</text>
<text transform="translate(7.3,437) rotate(-90)" font-family="DejaVu Sans" font-size="5.2" fill="#222" text-anchor="middle" dominant-baseline="central">RUL</text>
<rect x="168.4" y="367.5" width="73.69999999999999" height="18.80000000000001" rx="0.8" fill="#fff" stroke="#555" stroke-width="0.7"/>
<text x="189.2" y="373.05" font-family="Liberation Serif" font-size="5.2" fill="#000" stroke="#000" stroke-width="0.08" text-anchor="middle" text-rendering="geometricPrecision" transform="translate(189.2 371.3) scale(1 1.12) translate(-189.2 -371.3)">Attention-GRU</text>
<text x="189.2" y="378.15" font-family="Liberation Serif" font-size="5.2" fill="#000" stroke="#000" stroke-width="0.08" text-anchor="middle" text-rendering="geometricPrecision" transform="translate(189.2 376.4) scale(1 1.12) translate(-189.2 -376.4)">Non-Attention</text>
<text x="189.2" y="383.35" font-family="Liberation Serif" font-size="5.2" fill="#000" stroke="#000" stroke-width="0.08" text-anchor="middle" text-rendering="geometricPrecision" transform="translate(189.2 381.6) scale(1 1.12) translate(-189.2 -381.6)">Actual RUL</text>
<line x1="220.3" y1="370.9" x2="238.5" y2="370.9" stroke="#ff2020" stroke-width="1.5"/>
<line x1="220.3" y1="377.2" x2="238.5" y2="377.2" stroke="#2020ff" stroke-width="1.5"/>
<line x1="220.3" y1="383.8" x2="238.5" y2="383.8" stroke="#000" stroke-width="1.5"/>
<text x="104.4" y="543.0" font-family="Liberation Serif" font-size="11.7" fill="#111" letter-spacing="0.12"><tspan font-weight="bold">(e)</tspan> B2_5</text>
</svg></body></html>
